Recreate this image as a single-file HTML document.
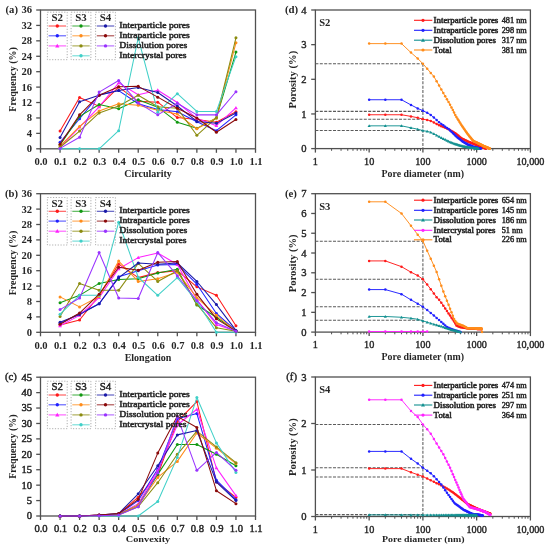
<!DOCTYPE html>
<html><head><meta charset="utf-8"><style>
html,body{margin:0;padding:0;background:#fff;}
svg{display:block;font-family:"Liberation Serif", serif;filter:blur(0.3px);}
</style></head><body>
<svg width="550" height="548" viewBox="0 0 550 548">
<rect width="550" height="548" fill="#fff"/>
<rect x="40.5" y="10.0" width="215.0" height="138.8" fill="none" stroke="#505050" stroke-width="1.3"/>
<line x1="36.2" y1="148.8" x2="40.5" y2="148.8" stroke="#505050" stroke-width="1.3" />
<text x="32" y="152.2" font-size="10.6" font-weight="bold" text-anchor="end" fill="#262626" >0</text>
<line x1="36.2" y1="133.38" x2="40.5" y2="133.38" stroke="#505050" stroke-width="1.3" />
<text x="32" y="136.78" font-size="10.6" font-weight="bold" text-anchor="end" fill="#262626" >4</text>
<line x1="36.2" y1="117.96" x2="40.5" y2="117.96" stroke="#505050" stroke-width="1.3" />
<text x="32" y="121.36" font-size="10.6" font-weight="bold" text-anchor="end" fill="#262626" >8</text>
<line x1="36.2" y1="102.53" x2="40.5" y2="102.53" stroke="#505050" stroke-width="1.3" />
<text x="32" y="105.93" font-size="10.6" font-weight="bold" text-anchor="end" fill="#262626" >12</text>
<line x1="36.2" y1="87.11" x2="40.5" y2="87.11" stroke="#505050" stroke-width="1.3" />
<text x="32" y="90.51" font-size="10.6" font-weight="bold" text-anchor="end" fill="#262626" >16</text>
<line x1="36.2" y1="71.69" x2="40.5" y2="71.69" stroke="#505050" stroke-width="1.3" />
<text x="32" y="75.09" font-size="10.6" font-weight="bold" text-anchor="end" fill="#262626" >20</text>
<line x1="36.2" y1="56.27" x2="40.5" y2="56.27" stroke="#505050" stroke-width="1.3" />
<text x="32" y="59.67" font-size="10.6" font-weight="bold" text-anchor="end" fill="#262626" >24</text>
<line x1="36.2" y1="40.84" x2="40.5" y2="40.84" stroke="#505050" stroke-width="1.3" />
<text x="32" y="44.24" font-size="10.6" font-weight="bold" text-anchor="end" fill="#262626" >28</text>
<line x1="36.2" y1="25.42" x2="40.5" y2="25.42" stroke="#505050" stroke-width="1.3" />
<text x="32" y="28.82" font-size="10.6" font-weight="bold" text-anchor="end" fill="#262626" >32</text>
<line x1="36.2" y1="10" x2="40.5" y2="10" stroke="#505050" stroke-width="1.3" />
<text x="32" y="13.4" font-size="10.6" font-weight="bold" text-anchor="end" fill="#262626" >36</text>
<line x1="40.5" y1="148.8" x2="40.5" y2="152.8" stroke="#505050" stroke-width="1.3" />
<text x="41" y="165.1" font-size="10.6" font-weight="bold" text-anchor="middle" fill="#262626" >0.0</text>
<line x1="60.05" y1="148.8" x2="60.05" y2="152.8" stroke="#505050" stroke-width="1.3" />
<text x="60.55" y="165.1" font-size="10.6" font-weight="bold" text-anchor="middle" fill="#262626" >0.1</text>
<line x1="79.59" y1="148.8" x2="79.59" y2="152.8" stroke="#505050" stroke-width="1.3" />
<text x="80.09" y="165.1" font-size="10.6" font-weight="bold" text-anchor="middle" fill="#262626" >0.2</text>
<line x1="99.14" y1="148.8" x2="99.14" y2="152.8" stroke="#505050" stroke-width="1.3" />
<text x="99.64" y="165.1" font-size="10.6" font-weight="bold" text-anchor="middle" fill="#262626" >0.3</text>
<line x1="118.68" y1="148.8" x2="118.68" y2="152.8" stroke="#505050" stroke-width="1.3" />
<text x="119.18" y="165.1" font-size="10.6" font-weight="bold" text-anchor="middle" fill="#262626" >0.4</text>
<line x1="138.23" y1="148.8" x2="138.23" y2="152.8" stroke="#505050" stroke-width="1.3" />
<text x="138.73" y="165.1" font-size="10.6" font-weight="bold" text-anchor="middle" fill="#262626" >0.5</text>
<line x1="157.77" y1="148.8" x2="157.77" y2="152.8" stroke="#505050" stroke-width="1.3" />
<text x="158.27" y="165.1" font-size="10.6" font-weight="bold" text-anchor="middle" fill="#262626" >0.6</text>
<line x1="177.32" y1="148.8" x2="177.32" y2="152.8" stroke="#505050" stroke-width="1.3" />
<text x="177.82" y="165.1" font-size="10.6" font-weight="bold" text-anchor="middle" fill="#262626" >0.7</text>
<line x1="196.86" y1="148.8" x2="196.86" y2="152.8" stroke="#505050" stroke-width="1.3" />
<text x="197.36" y="165.1" font-size="10.6" font-weight="bold" text-anchor="middle" fill="#262626" >0.8</text>
<line x1="216.41" y1="148.8" x2="216.41" y2="152.8" stroke="#505050" stroke-width="1.3" />
<text x="216.91" y="165.1" font-size="10.6" font-weight="bold" text-anchor="middle" fill="#262626" >0.9</text>
<line x1="235.95" y1="148.8" x2="235.95" y2="152.8" stroke="#505050" stroke-width="1.3" />
<text x="236.45" y="165.1" font-size="10.6" font-weight="bold" text-anchor="middle" fill="#262626" >1.0</text>
<line x1="255.5" y1="148.8" x2="255.5" y2="152.8" stroke="#505050" stroke-width="1.3" />
<text x="256" y="165.1" font-size="10.6" font-weight="bold" text-anchor="middle" fill="#262626" >1.1</text>
<text x="5.6" y="13" font-size="10.6" font-weight="bold" text-anchor="start" fill="#262626" >(a)</text>
<text x="0" y="0" font-size="10.0" font-weight="bold" text-anchor="middle" fill="#262626" transform="translate(16.2,79.4) rotate(-90)">Frequency (%)</text>
<text x="148" y="177.2" font-size="10.0" font-weight="bold" text-anchor="middle" fill="#262626" >Circularity</text>
<polyline points="60.05,131.06 79.59,97.52 99.14,106.39 118.68,87.11 138.23,101.38 157.77,102.15 177.32,117.57 196.86,119.5 216.41,122.2 235.95,111.79" fill="none" stroke="#ff1a1a" stroke-width="1.05" stroke-linejoin="round" />
<circle cx="60.05" cy="131.06" r="1.5" fill="#ff1a1a"/>
<circle cx="79.59" cy="97.52" r="1.5" fill="#ff1a1a"/>
<circle cx="99.14" cy="106.39" r="1.5" fill="#ff1a1a"/>
<circle cx="118.68" cy="87.11" r="1.5" fill="#ff1a1a"/>
<circle cx="138.23" cy="101.38" r="1.5" fill="#ff1a1a"/>
<circle cx="157.77" cy="102.15" r="1.5" fill="#ff1a1a"/>
<circle cx="177.32" cy="117.57" r="1.5" fill="#ff1a1a"/>
<circle cx="196.86" cy="119.5" r="1.5" fill="#ff1a1a"/>
<circle cx="216.41" cy="122.2" r="1.5" fill="#ff1a1a"/>
<circle cx="235.95" cy="111.79" r="1.5" fill="#ff1a1a"/>
<polyline points="60.05,142.25 79.59,118.73 99.14,94.82 118.68,90.58 138.23,103.69 157.77,109.47 177.32,111.79 196.86,121.81 216.41,130.68 235.95,114.87" fill="none" stroke="#2020ff" stroke-width="1.05" stroke-linejoin="round" />
<circle cx="60.05" cy="142.25" r="1.5" fill="#2020ff"/>
<circle cx="79.59" cy="118.73" r="1.5" fill="#2020ff"/>
<circle cx="99.14" cy="94.82" r="1.5" fill="#2020ff"/>
<circle cx="118.68" cy="90.58" r="1.5" fill="#2020ff"/>
<circle cx="138.23" cy="103.69" r="1.5" fill="#2020ff"/>
<circle cx="157.77" cy="109.47" r="1.5" fill="#2020ff"/>
<circle cx="177.32" cy="111.79" r="1.5" fill="#2020ff"/>
<circle cx="196.86" cy="121.81" r="1.5" fill="#2020ff"/>
<circle cx="216.41" cy="130.68" r="1.5" fill="#2020ff"/>
<circle cx="235.95" cy="114.87" r="1.5" fill="#2020ff"/>
<polyline points="60.05,147.64 79.59,127.21 99.14,106.77 118.68,82.87 138.23,94.82 157.77,90.2 177.32,102.53 196.86,118.34 216.41,125.67 235.95,107.93" fill="none" stroke="#ff22ff" stroke-width="1.05" stroke-linejoin="round" />
<path d="M60.05 145.77L61.92 149.05L58.17 149.05Z" fill="#ff22ff"/>
<path d="M79.59 125.33L81.47 128.62L77.72 128.62Z" fill="#ff22ff"/>
<path d="M99.14 104.9L101.01 108.18L97.26 108.18Z" fill="#ff22ff"/>
<path d="M118.68 81L120.56 84.28L116.81 84.28Z" fill="#ff22ff"/>
<path d="M138.23 92.95L140.1 96.23L136.35 96.23Z" fill="#ff22ff"/>
<path d="M157.77 88.32L159.65 91.6L155.9 91.6Z" fill="#ff22ff"/>
<path d="M177.32 100.66L179.19 103.94L175.44 103.94Z" fill="#ff22ff"/>
<path d="M196.86 116.47L198.74 119.75L194.99 119.75Z" fill="#ff22ff"/>
<path d="M216.41 123.79L218.28 127.07L214.53 127.07Z" fill="#ff22ff"/>
<path d="M235.95 106.06L237.83 109.34L234.08 109.34Z" fill="#ff22ff"/>
<polyline points="60.05,144.94 79.59,116.41 99.14,104.46 118.68,108.7 138.23,99.83 157.77,107.16 177.32,122.2 196.86,128.37 216.41,117.96 235.95,52.03" fill="none" stroke="#119911" stroke-width="1.05" stroke-linejoin="round" />
<circle cx="60.05" cy="144.94" r="1.5" fill="#119911"/>
<circle cx="79.59" cy="116.41" r="1.5" fill="#119911"/>
<circle cx="99.14" cy="104.46" r="1.5" fill="#119911"/>
<circle cx="118.68" cy="108.7" r="1.5" fill="#119911"/>
<circle cx="138.23" cy="99.83" r="1.5" fill="#119911"/>
<circle cx="157.77" cy="107.16" r="1.5" fill="#119911"/>
<circle cx="177.32" cy="122.2" r="1.5" fill="#119911"/>
<circle cx="196.86" cy="128.37" r="1.5" fill="#119911"/>
<circle cx="216.41" cy="117.96" r="1.5" fill="#119911"/>
<circle cx="235.95" cy="52.03" r="1.5" fill="#119911"/>
<polyline points="60.05,146.1 79.59,126.44 99.14,111.02 118.68,103.69 138.23,105.23 157.77,110.24 177.32,114.1 196.86,128.75 216.41,117.96 235.95,42.77" fill="none" stroke="#ff8c1a" stroke-width="1.05" stroke-linejoin="round" />
<circle cx="60.05" cy="146.1" r="1.5" fill="#ff8c1a"/>
<circle cx="79.59" cy="126.44" r="1.5" fill="#ff8c1a"/>
<circle cx="99.14" cy="111.02" r="1.5" fill="#ff8c1a"/>
<circle cx="118.68" cy="103.69" r="1.5" fill="#ff8c1a"/>
<circle cx="138.23" cy="105.23" r="1.5" fill="#ff8c1a"/>
<circle cx="157.77" cy="110.24" r="1.5" fill="#ff8c1a"/>
<circle cx="177.32" cy="114.1" r="1.5" fill="#ff8c1a"/>
<circle cx="196.86" cy="128.75" r="1.5" fill="#ff8c1a"/>
<circle cx="216.41" cy="117.96" r="1.5" fill="#ff8c1a"/>
<circle cx="235.95" cy="42.77" r="1.5" fill="#ff8c1a"/>
<polyline points="60.05,147.26 79.59,131.06 99.14,112.94 118.68,106 138.23,95.21 157.77,106.77 177.32,108.32 196.86,135.31 216.41,117.57 235.95,37.76" fill="none" stroke="#8c8c10" stroke-width="1.05" stroke-linejoin="round" />
<circle cx="60.05" cy="147.26" r="1.5" fill="#8c8c10"/>
<circle cx="79.59" cy="131.06" r="1.5" fill="#8c8c10"/>
<circle cx="99.14" cy="112.94" r="1.5" fill="#8c8c10"/>
<circle cx="118.68" cy="106" r="1.5" fill="#8c8c10"/>
<circle cx="138.23" cy="95.21" r="1.5" fill="#8c8c10"/>
<circle cx="157.77" cy="106.77" r="1.5" fill="#8c8c10"/>
<circle cx="177.32" cy="108.32" r="1.5" fill="#8c8c10"/>
<circle cx="196.86" cy="135.31" r="1.5" fill="#8c8c10"/>
<circle cx="216.41" cy="117.57" r="1.5" fill="#8c8c10"/>
<circle cx="235.95" cy="37.76" r="1.5" fill="#8c8c10"/>
<polyline points="60.05,148.8 79.59,148.8 99.14,148.8 118.68,130.68 138.23,37.76 157.77,112.17 177.32,93.67 196.86,111.4 216.41,111.4 235.95,56.65" fill="none" stroke="#40d0c8" stroke-width="1.05" stroke-linejoin="round" />
<circle cx="60.05" cy="148.8" r="1.5" fill="#40d0c8"/>
<circle cx="79.59" cy="148.8" r="1.5" fill="#40d0c8"/>
<circle cx="99.14" cy="148.8" r="1.5" fill="#40d0c8"/>
<circle cx="118.68" cy="130.68" r="1.5" fill="#40d0c8"/>
<circle cx="138.23" cy="37.76" r="1.5" fill="#40d0c8"/>
<circle cx="157.77" cy="112.17" r="1.5" fill="#40d0c8"/>
<circle cx="177.32" cy="93.67" r="1.5" fill="#40d0c8"/>
<circle cx="196.86" cy="111.4" r="1.5" fill="#40d0c8"/>
<circle cx="216.41" cy="111.4" r="1.5" fill="#40d0c8"/>
<circle cx="235.95" cy="56.65" r="1.5" fill="#40d0c8"/>
<polyline points="60.05,137.62 79.59,101.76 99.14,95.21 118.68,90.58 138.23,87.5 157.77,92.51 177.32,106 196.86,121.43 216.41,123.35 235.95,112.94" fill="none" stroke="#1a1aa8" stroke-width="1.05" stroke-linejoin="round" />
<circle cx="60.05" cy="137.62" r="1.5" fill="#1a1aa8"/>
<circle cx="79.59" cy="101.76" r="1.5" fill="#1a1aa8"/>
<circle cx="99.14" cy="95.21" r="1.5" fill="#1a1aa8"/>
<circle cx="118.68" cy="90.58" r="1.5" fill="#1a1aa8"/>
<circle cx="138.23" cy="87.5" r="1.5" fill="#1a1aa8"/>
<circle cx="157.77" cy="92.51" r="1.5" fill="#1a1aa8"/>
<circle cx="177.32" cy="106" r="1.5" fill="#1a1aa8"/>
<circle cx="196.86" cy="121.43" r="1.5" fill="#1a1aa8"/>
<circle cx="216.41" cy="123.35" r="1.5" fill="#1a1aa8"/>
<circle cx="235.95" cy="112.94" r="1.5" fill="#1a1aa8"/>
<polyline points="60.05,144.17 79.59,114.87 99.14,95.21 118.68,86.73 138.23,86.34 157.77,97.14 177.32,108.32 196.86,117.96 216.41,132.22 235.95,119.5" fill="none" stroke="#8b0a0a" stroke-width="1.05" stroke-linejoin="round" />
<circle cx="60.05" cy="144.17" r="1.5" fill="#8b0a0a"/>
<circle cx="79.59" cy="114.87" r="1.5" fill="#8b0a0a"/>
<circle cx="99.14" cy="95.21" r="1.5" fill="#8b0a0a"/>
<circle cx="118.68" cy="86.73" r="1.5" fill="#8b0a0a"/>
<circle cx="138.23" cy="86.34" r="1.5" fill="#8b0a0a"/>
<circle cx="157.77" cy="97.14" r="1.5" fill="#8b0a0a"/>
<circle cx="177.32" cy="108.32" r="1.5" fill="#8b0a0a"/>
<circle cx="196.86" cy="117.96" r="1.5" fill="#8b0a0a"/>
<circle cx="216.41" cy="132.22" r="1.5" fill="#8b0a0a"/>
<circle cx="235.95" cy="119.5" r="1.5" fill="#8b0a0a"/>
<polyline points="60.05,148.41 79.59,137.23 99.14,92.12 118.68,80.56 138.23,102.92 157.77,114.87 177.32,103.3 196.86,114.87 216.41,114.87 235.95,91.74" fill="none" stroke="#9933ff" stroke-width="1.05" stroke-linejoin="round" />
<circle cx="60.05" cy="148.41" r="1.5" fill="#9933ff"/>
<circle cx="79.59" cy="137.23" r="1.5" fill="#9933ff"/>
<circle cx="99.14" cy="92.12" r="1.5" fill="#9933ff"/>
<circle cx="118.68" cy="80.56" r="1.5" fill="#9933ff"/>
<circle cx="138.23" cy="102.92" r="1.5" fill="#9933ff"/>
<circle cx="157.77" cy="114.87" r="1.5" fill="#9933ff"/>
<circle cx="177.32" cy="103.3" r="1.5" fill="#9933ff"/>
<circle cx="196.86" cy="114.87" r="1.5" fill="#9933ff"/>
<circle cx="216.41" cy="114.87" r="1.5" fill="#9933ff"/>
<circle cx="235.95" cy="91.74" r="1.5" fill="#9933ff"/>
<rect x="47.4" y="12.2" width="19.8" height="47.5" fill="none" stroke="#9a9a9a" stroke-width="0.8" stroke-dasharray="1.2,1.6"/>
<text x="57.3" y="21.2" font-size="10.9" font-weight="bold" text-anchor="middle" fill="#262626" >S2</text>
<line x1="48.6" y1="26" x2="66" y2="26" stroke="#ff1a1a" stroke-width="1.1" opacity="0.75"/>
<circle cx="57.3" cy="26" r="1.7" fill="#ff1a1a"/>
<line x1="48.6" y1="35.8" x2="66" y2="35.8" stroke="#2020ff" stroke-width="1.1" opacity="0.75"/>
<circle cx="57.3" cy="35.8" r="1.7" fill="#2020ff"/>
<line x1="48.6" y1="45.9" x2="66" y2="45.9" stroke="#ff22ff" stroke-width="1.1" opacity="0.75"/>
<path d="M57.3 43.77L59.42 47.49L55.17 47.49Z" fill="#ff22ff"/>
<rect x="71.1" y="12.2" width="19.8" height="47.5" fill="none" stroke="#9a9a9a" stroke-width="0.8" stroke-dasharray="1.2,1.6"/>
<text x="81" y="21.2" font-size="10.9" font-weight="bold" text-anchor="middle" fill="#262626" >S3</text>
<line x1="72.3" y1="26" x2="89.7" y2="26" stroke="#119911" stroke-width="1.1" opacity="0.75"/>
<circle cx="81" cy="26" r="1.7" fill="#119911"/>
<line x1="72.3" y1="35.8" x2="89.7" y2="35.8" stroke="#ff8c1a" stroke-width="1.1" opacity="0.75"/>
<circle cx="81" cy="35.8" r="1.7" fill="#ff8c1a"/>
<line x1="72.3" y1="45.9" x2="89.7" y2="45.9" stroke="#8c8c10" stroke-width="1.1" opacity="0.75"/>
<circle cx="81" cy="45.9" r="1.7" fill="#8c8c10"/>
<line x1="72.3" y1="55.8" x2="89.7" y2="55.8" stroke="#40d0c8" stroke-width="1.1" opacity="0.75"/>
<circle cx="81" cy="55.8" r="1.7" fill="#40d0c8"/>
<rect x="95.6" y="12.2" width="19.8" height="47.5" fill="none" stroke="#9a9a9a" stroke-width="0.8" stroke-dasharray="1.2,1.6"/>
<text x="105.5" y="21.2" font-size="10.9" font-weight="bold" text-anchor="middle" fill="#262626" >S4</text>
<line x1="96.8" y1="26" x2="114.2" y2="26" stroke="#1a1aa8" stroke-width="1.1" opacity="0.75"/>
<circle cx="105.5" cy="26" r="1.7" fill="#1a1aa8"/>
<line x1="96.8" y1="35.8" x2="114.2" y2="35.8" stroke="#8b0a0a" stroke-width="1.1" opacity="0.75"/>
<circle cx="105.5" cy="35.8" r="1.7" fill="#8b0a0a"/>
<line x1="96.8" y1="45.9" x2="114.2" y2="45.9" stroke="#9933ff" stroke-width="1.1" opacity="0.75"/>
<circle cx="105.5" cy="45.9" r="1.7" fill="#9933ff"/>
<text x="0" y="0" font-size="9.0" font-weight="normal" text-anchor="start" fill="#262626" stroke="#262626" stroke-width="0.5" transform="translate(119.3,28.1) scale(1.075,1)">Interparticle pores</text>
<text x="0" y="0" font-size="9.0" font-weight="normal" text-anchor="start" fill="#262626" stroke="#262626" stroke-width="0.5" transform="translate(119.3,38.1) scale(1.075,1)">Intraparticle pores</text>
<text x="0" y="0" font-size="9.0" font-weight="normal" text-anchor="start" fill="#262626" stroke="#262626" stroke-width="0.5" transform="translate(119.3,47.6) scale(1.075,1)">Dissolution pores</text>
<text x="0" y="0" font-size="9.0" font-weight="normal" text-anchor="start" fill="#262626" stroke="#262626" stroke-width="0.5" transform="translate(119.3,57.6) scale(1.075,1)">Intercrystal pores</text>
<rect x="40.5" y="193.7" width="215.0" height="138.6" fill="none" stroke="#505050" stroke-width="1.3"/>
<line x1="36.2" y1="332.3" x2="40.5" y2="332.3" stroke="#505050" stroke-width="1.3" />
<text x="32" y="335.7" font-size="10.6" font-weight="bold" text-anchor="end" fill="#262626" >0</text>
<line x1="36.2" y1="316.9" x2="40.5" y2="316.9" stroke="#505050" stroke-width="1.3" />
<text x="32" y="320.3" font-size="10.6" font-weight="bold" text-anchor="end" fill="#262626" >4</text>
<line x1="36.2" y1="301.5" x2="40.5" y2="301.5" stroke="#505050" stroke-width="1.3" />
<text x="32" y="304.9" font-size="10.6" font-weight="bold" text-anchor="end" fill="#262626" >8</text>
<line x1="36.2" y1="286.1" x2="40.5" y2="286.1" stroke="#505050" stroke-width="1.3" />
<text x="32" y="289.5" font-size="10.6" font-weight="bold" text-anchor="end" fill="#262626" >12</text>
<line x1="36.2" y1="270.7" x2="40.5" y2="270.7" stroke="#505050" stroke-width="1.3" />
<text x="32" y="274.1" font-size="10.6" font-weight="bold" text-anchor="end" fill="#262626" >16</text>
<line x1="36.2" y1="255.3" x2="40.5" y2="255.3" stroke="#505050" stroke-width="1.3" />
<text x="32" y="258.7" font-size="10.6" font-weight="bold" text-anchor="end" fill="#262626" >20</text>
<line x1="36.2" y1="239.9" x2="40.5" y2="239.9" stroke="#505050" stroke-width="1.3" />
<text x="32" y="243.3" font-size="10.6" font-weight="bold" text-anchor="end" fill="#262626" >24</text>
<line x1="36.2" y1="224.5" x2="40.5" y2="224.5" stroke="#505050" stroke-width="1.3" />
<text x="32" y="227.9" font-size="10.6" font-weight="bold" text-anchor="end" fill="#262626" >28</text>
<line x1="36.2" y1="209.1" x2="40.5" y2="209.1" stroke="#505050" stroke-width="1.3" />
<text x="32" y="212.5" font-size="10.6" font-weight="bold" text-anchor="end" fill="#262626" >32</text>
<line x1="36.2" y1="193.7" x2="40.5" y2="193.7" stroke="#505050" stroke-width="1.3" />
<text x="32" y="197.1" font-size="10.6" font-weight="bold" text-anchor="end" fill="#262626" >36</text>
<line x1="40.5" y1="332.3" x2="40.5" y2="336.3" stroke="#505050" stroke-width="1.3" />
<text x="41" y="348.6" font-size="10.6" font-weight="bold" text-anchor="middle" fill="#262626" >0.0</text>
<line x1="60.05" y1="332.3" x2="60.05" y2="336.3" stroke="#505050" stroke-width="1.3" />
<text x="60.55" y="348.6" font-size="10.6" font-weight="bold" text-anchor="middle" fill="#262626" >0.1</text>
<line x1="79.59" y1="332.3" x2="79.59" y2="336.3" stroke="#505050" stroke-width="1.3" />
<text x="80.09" y="348.6" font-size="10.6" font-weight="bold" text-anchor="middle" fill="#262626" >0.2</text>
<line x1="99.14" y1="332.3" x2="99.14" y2="336.3" stroke="#505050" stroke-width="1.3" />
<text x="99.64" y="348.6" font-size="10.6" font-weight="bold" text-anchor="middle" fill="#262626" >0.3</text>
<line x1="118.68" y1="332.3" x2="118.68" y2="336.3" stroke="#505050" stroke-width="1.3" />
<text x="119.18" y="348.6" font-size="10.6" font-weight="bold" text-anchor="middle" fill="#262626" >0.4</text>
<line x1="138.23" y1="332.3" x2="138.23" y2="336.3" stroke="#505050" stroke-width="1.3" />
<text x="138.73" y="348.6" font-size="10.6" font-weight="bold" text-anchor="middle" fill="#262626" >0.5</text>
<line x1="157.77" y1="332.3" x2="157.77" y2="336.3" stroke="#505050" stroke-width="1.3" />
<text x="158.27" y="348.6" font-size="10.6" font-weight="bold" text-anchor="middle" fill="#262626" >0.6</text>
<line x1="177.32" y1="332.3" x2="177.32" y2="336.3" stroke="#505050" stroke-width="1.3" />
<text x="177.82" y="348.6" font-size="10.6" font-weight="bold" text-anchor="middle" fill="#262626" >0.7</text>
<line x1="196.86" y1="332.3" x2="196.86" y2="336.3" stroke="#505050" stroke-width="1.3" />
<text x="197.36" y="348.6" font-size="10.6" font-weight="bold" text-anchor="middle" fill="#262626" >0.8</text>
<line x1="216.41" y1="332.3" x2="216.41" y2="336.3" stroke="#505050" stroke-width="1.3" />
<text x="216.91" y="348.6" font-size="10.6" font-weight="bold" text-anchor="middle" fill="#262626" >0.9</text>
<line x1="235.95" y1="332.3" x2="235.95" y2="336.3" stroke="#505050" stroke-width="1.3" />
<text x="236.45" y="348.6" font-size="10.6" font-weight="bold" text-anchor="middle" fill="#262626" >1.0</text>
<line x1="255.5" y1="332.3" x2="255.5" y2="336.3" stroke="#505050" stroke-width="1.3" />
<text x="256" y="348.6" font-size="10.6" font-weight="bold" text-anchor="middle" fill="#262626" >1.1</text>
<text x="5" y="196.7" font-size="10.6" font-weight="bold" text-anchor="start" fill="#262626" >(b)</text>
<text x="0" y="0" font-size="10.0" font-weight="bold" text-anchor="middle" fill="#262626" transform="translate(16.2,263) rotate(-90)">Frequency (%)</text>
<text x="148" y="361.2" font-size="10.0" font-weight="bold" text-anchor="middle" fill="#262626" >Elongation</text>
<polyline points="60.05,324.99 79.59,319.98 99.14,295.34 118.68,264.15 138.23,277.63 157.77,272.62 177.32,270.7 196.86,286.87 216.41,295.34 235.95,325.75" fill="none" stroke="#ff1a1a" stroke-width="1.05" stroke-linejoin="round" />
<circle cx="60.05" cy="324.99" r="1.5" fill="#ff1a1a"/>
<circle cx="79.59" cy="319.98" r="1.5" fill="#ff1a1a"/>
<circle cx="99.14" cy="295.34" r="1.5" fill="#ff1a1a"/>
<circle cx="118.68" cy="264.15" r="1.5" fill="#ff1a1a"/>
<circle cx="138.23" cy="277.63" r="1.5" fill="#ff1a1a"/>
<circle cx="157.77" cy="272.62" r="1.5" fill="#ff1a1a"/>
<circle cx="177.32" cy="270.7" r="1.5" fill="#ff1a1a"/>
<circle cx="196.86" cy="286.87" r="1.5" fill="#ff1a1a"/>
<circle cx="216.41" cy="295.34" r="1.5" fill="#ff1a1a"/>
<circle cx="235.95" cy="325.75" r="1.5" fill="#ff1a1a"/>
<polyline points="60.05,323.44 79.59,313.82 99.14,303.81 118.68,276.86 138.23,270.7 157.77,264.93 177.32,264.54 196.86,284.18 216.41,313.44 235.95,330.76" fill="none" stroke="#2020ff" stroke-width="1.05" stroke-linejoin="round" />
<circle cx="60.05" cy="323.44" r="1.5" fill="#2020ff"/>
<circle cx="79.59" cy="313.82" r="1.5" fill="#2020ff"/>
<circle cx="99.14" cy="303.81" r="1.5" fill="#2020ff"/>
<circle cx="118.68" cy="276.86" r="1.5" fill="#2020ff"/>
<circle cx="138.23" cy="270.7" r="1.5" fill="#2020ff"/>
<circle cx="157.77" cy="264.93" r="1.5" fill="#2020ff"/>
<circle cx="177.32" cy="264.54" r="1.5" fill="#2020ff"/>
<circle cx="196.86" cy="284.18" r="1.5" fill="#2020ff"/>
<circle cx="216.41" cy="313.44" r="1.5" fill="#2020ff"/>
<circle cx="235.95" cy="330.76" r="1.5" fill="#2020ff"/>
<polyline points="60.05,325.75 79.59,315.36 99.14,297.65 118.68,268.77 138.23,257.61 157.77,252.99 177.32,264.54 196.86,299.57 216.41,324.6 235.95,331.15" fill="none" stroke="#ff22ff" stroke-width="1.05" stroke-linejoin="round" />
<path d="M60.05 323.88L61.92 327.16L58.17 327.16Z" fill="#ff22ff"/>
<path d="M79.59 313.49L81.47 316.77L77.72 316.77Z" fill="#ff22ff"/>
<path d="M99.14 295.77L101.01 299.06L97.26 299.06Z" fill="#ff22ff"/>
<path d="M118.68 266.9L120.56 270.18L116.81 270.18Z" fill="#ff22ff"/>
<path d="M138.23 255.74L140.1 259.02L136.35 259.02Z" fill="#ff22ff"/>
<path d="M157.77 251.12L159.65 254.4L155.9 254.4Z" fill="#ff22ff"/>
<path d="M177.32 262.66L179.19 265.95L175.44 265.95Z" fill="#ff22ff"/>
<path d="M196.86 297.7L198.74 300.98L194.99 300.98Z" fill="#ff22ff"/>
<path d="M216.41 322.73L218.28 326.01L214.53 326.01Z" fill="#ff22ff"/>
<path d="M235.95 329.27L237.83 332.55L234.08 332.55Z" fill="#ff22ff"/>
<polyline points="60.05,302.66 79.59,295.34 99.14,283.4 118.68,279.56 138.23,278.78 157.77,273.01 177.32,269.16 196.86,304.97 216.41,317.29 235.95,331.15" fill="none" stroke="#119911" stroke-width="1.05" stroke-linejoin="round" />
<circle cx="60.05" cy="302.66" r="1.5" fill="#119911"/>
<circle cx="79.59" cy="295.34" r="1.5" fill="#119911"/>
<circle cx="99.14" cy="283.4" r="1.5" fill="#119911"/>
<circle cx="118.68" cy="279.56" r="1.5" fill="#119911"/>
<circle cx="138.23" cy="278.78" r="1.5" fill="#119911"/>
<circle cx="157.77" cy="273.01" r="1.5" fill="#119911"/>
<circle cx="177.32" cy="269.16" r="1.5" fill="#119911"/>
<circle cx="196.86" cy="304.97" r="1.5" fill="#119911"/>
<circle cx="216.41" cy="317.29" r="1.5" fill="#119911"/>
<circle cx="235.95" cy="331.15" r="1.5" fill="#119911"/>
<polyline points="60.05,296.88 79.59,306.89 99.14,296.5 118.68,261.07 138.23,281.48 157.77,278.78 177.32,272.24 196.86,297.65 216.41,315.36 235.95,331.15" fill="none" stroke="#ff8c1a" stroke-width="1.05" stroke-linejoin="round" />
<circle cx="60.05" cy="296.88" r="1.5" fill="#ff8c1a"/>
<circle cx="79.59" cy="306.89" r="1.5" fill="#ff8c1a"/>
<circle cx="99.14" cy="296.5" r="1.5" fill="#ff8c1a"/>
<circle cx="118.68" cy="261.07" r="1.5" fill="#ff8c1a"/>
<circle cx="138.23" cy="281.48" r="1.5" fill="#ff8c1a"/>
<circle cx="157.77" cy="278.78" r="1.5" fill="#ff8c1a"/>
<circle cx="177.32" cy="272.24" r="1.5" fill="#ff8c1a"/>
<circle cx="196.86" cy="297.65" r="1.5" fill="#ff8c1a"/>
<circle cx="216.41" cy="315.36" r="1.5" fill="#ff8c1a"/>
<circle cx="235.95" cy="331.15" r="1.5" fill="#ff8c1a"/>
<polyline points="60.05,316.51 79.59,283.4 99.14,290.34 118.68,290.34 138.23,263.38 157.77,281.48 177.32,270.7 196.86,304.19 216.41,327.68 235.95,331.15" fill="none" stroke="#8c8c10" stroke-width="1.05" stroke-linejoin="round" />
<circle cx="60.05" cy="316.51" r="1.5" fill="#8c8c10"/>
<circle cx="79.59" cy="283.4" r="1.5" fill="#8c8c10"/>
<circle cx="99.14" cy="290.34" r="1.5" fill="#8c8c10"/>
<circle cx="118.68" cy="290.34" r="1.5" fill="#8c8c10"/>
<circle cx="138.23" cy="263.38" r="1.5" fill="#8c8c10"/>
<circle cx="157.77" cy="281.48" r="1.5" fill="#8c8c10"/>
<circle cx="177.32" cy="270.7" r="1.5" fill="#8c8c10"/>
<circle cx="196.86" cy="304.19" r="1.5" fill="#8c8c10"/>
<circle cx="216.41" cy="327.68" r="1.5" fill="#8c8c10"/>
<circle cx="235.95" cy="331.15" r="1.5" fill="#8c8c10"/>
<polyline points="60.05,314.2 79.59,295.34 99.14,295.34 118.68,222.19 138.23,277.25 157.77,295.34 177.32,277.63 196.86,301.5 216.41,332.3 235.95,332.3" fill="none" stroke="#40d0c8" stroke-width="1.05" stroke-linejoin="round" />
<circle cx="60.05" cy="314.2" r="1.5" fill="#40d0c8"/>
<circle cx="79.59" cy="295.34" r="1.5" fill="#40d0c8"/>
<circle cx="99.14" cy="295.34" r="1.5" fill="#40d0c8"/>
<circle cx="118.68" cy="222.19" r="1.5" fill="#40d0c8"/>
<circle cx="138.23" cy="277.25" r="1.5" fill="#40d0c8"/>
<circle cx="157.77" cy="295.34" r="1.5" fill="#40d0c8"/>
<circle cx="177.32" cy="277.63" r="1.5" fill="#40d0c8"/>
<circle cx="196.86" cy="301.5" r="1.5" fill="#40d0c8"/>
<circle cx="216.41" cy="332.3" r="1.5" fill="#40d0c8"/>
<circle cx="235.95" cy="332.3" r="1.5" fill="#40d0c8"/>
<polyline points="60.05,322.29 79.59,314.59 99.14,303.81 118.68,277.63 138.23,263 157.77,264.15 177.32,263 196.86,281.48 216.41,304.58 235.95,330.38" fill="none" stroke="#1a1aa8" stroke-width="1.05" stroke-linejoin="round" />
<circle cx="60.05" cy="322.29" r="1.5" fill="#1a1aa8"/>
<circle cx="79.59" cy="314.59" r="1.5" fill="#1a1aa8"/>
<circle cx="99.14" cy="303.81" r="1.5" fill="#1a1aa8"/>
<circle cx="118.68" cy="277.63" r="1.5" fill="#1a1aa8"/>
<circle cx="138.23" cy="263" r="1.5" fill="#1a1aa8"/>
<circle cx="157.77" cy="264.15" r="1.5" fill="#1a1aa8"/>
<circle cx="177.32" cy="263" r="1.5" fill="#1a1aa8"/>
<circle cx="196.86" cy="281.48" r="1.5" fill="#1a1aa8"/>
<circle cx="216.41" cy="304.58" r="1.5" fill="#1a1aa8"/>
<circle cx="235.95" cy="330.38" r="1.5" fill="#1a1aa8"/>
<polyline points="60.05,324.22 79.59,313.05 99.14,294.19 118.68,267.24 138.23,270.31 157.77,262.23 177.32,261.46 196.86,294.19 216.41,318.82 235.95,331.15" fill="none" stroke="#8b0a0a" stroke-width="1.05" stroke-linejoin="round" />
<circle cx="60.05" cy="324.22" r="1.5" fill="#8b0a0a"/>
<circle cx="79.59" cy="313.05" r="1.5" fill="#8b0a0a"/>
<circle cx="99.14" cy="294.19" r="1.5" fill="#8b0a0a"/>
<circle cx="118.68" cy="267.24" r="1.5" fill="#8b0a0a"/>
<circle cx="138.23" cy="270.31" r="1.5" fill="#8b0a0a"/>
<circle cx="157.77" cy="262.23" r="1.5" fill="#8b0a0a"/>
<circle cx="177.32" cy="261.46" r="1.5" fill="#8b0a0a"/>
<circle cx="196.86" cy="294.19" r="1.5" fill="#8b0a0a"/>
<circle cx="216.41" cy="318.82" r="1.5" fill="#8b0a0a"/>
<circle cx="235.95" cy="331.15" r="1.5" fill="#8b0a0a"/>
<polyline points="60.05,309.58 79.59,298.04 99.14,252.61 118.68,298.04 138.23,298.42 157.77,252.61 177.32,275.7 196.86,300.73 216.41,322.68 235.95,331.15" fill="none" stroke="#9933ff" stroke-width="1.05" stroke-linejoin="round" />
<circle cx="60.05" cy="309.58" r="1.5" fill="#9933ff"/>
<circle cx="79.59" cy="298.04" r="1.5" fill="#9933ff"/>
<circle cx="99.14" cy="252.61" r="1.5" fill="#9933ff"/>
<circle cx="118.68" cy="298.04" r="1.5" fill="#9933ff"/>
<circle cx="138.23" cy="298.42" r="1.5" fill="#9933ff"/>
<circle cx="157.77" cy="252.61" r="1.5" fill="#9933ff"/>
<circle cx="177.32" cy="275.7" r="1.5" fill="#9933ff"/>
<circle cx="196.86" cy="300.73" r="1.5" fill="#9933ff"/>
<circle cx="216.41" cy="322.68" r="1.5" fill="#9933ff"/>
<circle cx="235.95" cy="331.15" r="1.5" fill="#9933ff"/>
<rect x="47.4" y="197.5" width="19.8" height="47.5" fill="none" stroke="#9a9a9a" stroke-width="0.8" stroke-dasharray="1.2,1.6"/>
<text x="57.3" y="206.5" font-size="10.9" font-weight="bold" text-anchor="middle" fill="#262626" >S2</text>
<line x1="48.6" y1="211.3" x2="66" y2="211.3" stroke="#ff1a1a" stroke-width="1.1" opacity="0.75"/>
<circle cx="57.3" cy="211.3" r="1.7" fill="#ff1a1a"/>
<line x1="48.6" y1="221.1" x2="66" y2="221.1" stroke="#2020ff" stroke-width="1.1" opacity="0.75"/>
<circle cx="57.3" cy="221.1" r="1.7" fill="#2020ff"/>
<line x1="48.6" y1="231.2" x2="66" y2="231.2" stroke="#ff22ff" stroke-width="1.1" opacity="0.75"/>
<path d="M57.3 229.07L59.42 232.79L55.17 232.79Z" fill="#ff22ff"/>
<rect x="71.1" y="197.5" width="19.8" height="47.5" fill="none" stroke="#9a9a9a" stroke-width="0.8" stroke-dasharray="1.2,1.6"/>
<text x="81" y="206.5" font-size="10.9" font-weight="bold" text-anchor="middle" fill="#262626" >S3</text>
<line x1="72.3" y1="211.3" x2="89.7" y2="211.3" stroke="#119911" stroke-width="1.1" opacity="0.75"/>
<circle cx="81" cy="211.3" r="1.7" fill="#119911"/>
<line x1="72.3" y1="221.1" x2="89.7" y2="221.1" stroke="#ff8c1a" stroke-width="1.1" opacity="0.75"/>
<circle cx="81" cy="221.1" r="1.7" fill="#ff8c1a"/>
<line x1="72.3" y1="231.2" x2="89.7" y2="231.2" stroke="#8c8c10" stroke-width="1.1" opacity="0.75"/>
<circle cx="81" cy="231.2" r="1.7" fill="#8c8c10"/>
<line x1="72.3" y1="241.1" x2="89.7" y2="241.1" stroke="#40d0c8" stroke-width="1.1" opacity="0.75"/>
<circle cx="81" cy="241.1" r="1.7" fill="#40d0c8"/>
<rect x="95.6" y="197.5" width="19.8" height="47.5" fill="none" stroke="#9a9a9a" stroke-width="0.8" stroke-dasharray="1.2,1.6"/>
<text x="105.5" y="206.5" font-size="10.9" font-weight="bold" text-anchor="middle" fill="#262626" >S4</text>
<line x1="96.8" y1="211.3" x2="114.2" y2="211.3" stroke="#1a1aa8" stroke-width="1.1" opacity="0.75"/>
<circle cx="105.5" cy="211.3" r="1.7" fill="#1a1aa8"/>
<line x1="96.8" y1="221.1" x2="114.2" y2="221.1" stroke="#8b0a0a" stroke-width="1.1" opacity="0.75"/>
<circle cx="105.5" cy="221.1" r="1.7" fill="#8b0a0a"/>
<line x1="96.8" y1="231.2" x2="114.2" y2="231.2" stroke="#9933ff" stroke-width="1.1" opacity="0.75"/>
<circle cx="105.5" cy="231.2" r="1.7" fill="#9933ff"/>
<text x="0" y="0" font-size="9.0" font-weight="normal" text-anchor="start" fill="#262626" stroke="#262626" stroke-width="0.5" transform="translate(119.3,213.4) scale(1.075,1)">Interparticle pores</text>
<text x="0" y="0" font-size="9.0" font-weight="normal" text-anchor="start" fill="#262626" stroke="#262626" stroke-width="0.5" transform="translate(119.3,223.4) scale(1.075,1)">Intraparticle pores</text>
<text x="0" y="0" font-size="9.0" font-weight="normal" text-anchor="start" fill="#262626" stroke="#262626" stroke-width="0.5" transform="translate(119.3,232.9) scale(1.075,1)">Dissolution pores</text>
<text x="0" y="0" font-size="9.0" font-weight="normal" text-anchor="start" fill="#262626" stroke="#262626" stroke-width="0.5" transform="translate(119.3,242.9) scale(1.075,1)">Intercrystal pores</text>
<rect x="40.5" y="377.2" width="215.0" height="138.8" fill="none" stroke="#505050" stroke-width="1.3"/>
<line x1="36.2" y1="516" x2="40.5" y2="516" stroke="#505050" stroke-width="1.3" />
<text x="32" y="519.4" font-size="10.6" font-weight="normal" text-anchor="end" fill="#262626" stroke="#262626" stroke-width="0.45">0</text>
<line x1="36.2" y1="500.58" x2="40.5" y2="500.58" stroke="#505050" stroke-width="1.3" />
<text x="32" y="503.98" font-size="10.6" font-weight="normal" text-anchor="end" fill="#262626" stroke="#262626" stroke-width="0.45">5</text>
<line x1="36.2" y1="485.16" x2="40.5" y2="485.16" stroke="#505050" stroke-width="1.3" />
<text x="32" y="488.56" font-size="10.6" font-weight="normal" text-anchor="end" fill="#262626" stroke="#262626" stroke-width="0.45">10</text>
<line x1="36.2" y1="469.73" x2="40.5" y2="469.73" stroke="#505050" stroke-width="1.3" />
<text x="32" y="473.13" font-size="10.6" font-weight="normal" text-anchor="end" fill="#262626" stroke="#262626" stroke-width="0.45">15</text>
<line x1="36.2" y1="454.31" x2="40.5" y2="454.31" stroke="#505050" stroke-width="1.3" />
<text x="32" y="457.71" font-size="10.6" font-weight="normal" text-anchor="end" fill="#262626" stroke="#262626" stroke-width="0.45">20</text>
<line x1="36.2" y1="438.89" x2="40.5" y2="438.89" stroke="#505050" stroke-width="1.3" />
<text x="32" y="442.29" font-size="10.6" font-weight="normal" text-anchor="end" fill="#262626" stroke="#262626" stroke-width="0.45">25</text>
<line x1="36.2" y1="423.47" x2="40.5" y2="423.47" stroke="#505050" stroke-width="1.3" />
<text x="32" y="426.87" font-size="10.6" font-weight="normal" text-anchor="end" fill="#262626" stroke="#262626" stroke-width="0.45">30</text>
<line x1="36.2" y1="408.04" x2="40.5" y2="408.04" stroke="#505050" stroke-width="1.3" />
<text x="32" y="411.44" font-size="10.6" font-weight="normal" text-anchor="end" fill="#262626" stroke="#262626" stroke-width="0.45">35</text>
<line x1="36.2" y1="392.62" x2="40.5" y2="392.62" stroke="#505050" stroke-width="1.3" />
<text x="32" y="396.02" font-size="10.6" font-weight="normal" text-anchor="end" fill="#262626" stroke="#262626" stroke-width="0.45">40</text>
<line x1="36.2" y1="377.2" x2="40.5" y2="377.2" stroke="#505050" stroke-width="1.3" />
<text x="32" y="380.6" font-size="10.6" font-weight="normal" text-anchor="end" fill="#262626" stroke="#262626" stroke-width="0.45">45</text>
<line x1="40.5" y1="516" x2="40.5" y2="520" stroke="#505050" stroke-width="1.3" />
<text x="41" y="532.3" font-size="10.6" font-weight="normal" text-anchor="middle" fill="#262626" stroke="#262626" stroke-width="0.45">0.0</text>
<line x1="60.05" y1="516" x2="60.05" y2="520" stroke="#505050" stroke-width="1.3" />
<text x="60.55" y="532.3" font-size="10.6" font-weight="normal" text-anchor="middle" fill="#262626" stroke="#262626" stroke-width="0.45">0.1</text>
<line x1="79.59" y1="516" x2="79.59" y2="520" stroke="#505050" stroke-width="1.3" />
<text x="80.09" y="532.3" font-size="10.6" font-weight="normal" text-anchor="middle" fill="#262626" stroke="#262626" stroke-width="0.45">0.2</text>
<line x1="99.14" y1="516" x2="99.14" y2="520" stroke="#505050" stroke-width="1.3" />
<text x="99.64" y="532.3" font-size="10.6" font-weight="normal" text-anchor="middle" fill="#262626" stroke="#262626" stroke-width="0.45">0.3</text>
<line x1="118.68" y1="516" x2="118.68" y2="520" stroke="#505050" stroke-width="1.3" />
<text x="119.18" y="532.3" font-size="10.6" font-weight="normal" text-anchor="middle" fill="#262626" stroke="#262626" stroke-width="0.45">0.4</text>
<line x1="138.23" y1="516" x2="138.23" y2="520" stroke="#505050" stroke-width="1.3" />
<text x="138.73" y="532.3" font-size="10.6" font-weight="normal" text-anchor="middle" fill="#262626" stroke="#262626" stroke-width="0.45">0.5</text>
<line x1="157.77" y1="516" x2="157.77" y2="520" stroke="#505050" stroke-width="1.3" />
<text x="158.27" y="532.3" font-size="10.6" font-weight="normal" text-anchor="middle" fill="#262626" stroke="#262626" stroke-width="0.45">0.6</text>
<line x1="177.32" y1="516" x2="177.32" y2="520" stroke="#505050" stroke-width="1.3" />
<text x="177.82" y="532.3" font-size="10.6" font-weight="normal" text-anchor="middle" fill="#262626" stroke="#262626" stroke-width="0.45">0.7</text>
<line x1="196.86" y1="516" x2="196.86" y2="520" stroke="#505050" stroke-width="1.3" />
<text x="197.36" y="532.3" font-size="10.6" font-weight="normal" text-anchor="middle" fill="#262626" stroke="#262626" stroke-width="0.45">0.8</text>
<line x1="216.41" y1="516" x2="216.41" y2="520" stroke="#505050" stroke-width="1.3" />
<text x="216.91" y="532.3" font-size="10.6" font-weight="normal" text-anchor="middle" fill="#262626" stroke="#262626" stroke-width="0.45">0.9</text>
<line x1="235.95" y1="516" x2="235.95" y2="520" stroke="#505050" stroke-width="1.3" />
<text x="236.45" y="532.3" font-size="10.6" font-weight="normal" text-anchor="middle" fill="#262626" stroke="#262626" stroke-width="0.45">1.0</text>
<line x1="255.5" y1="516" x2="255.5" y2="520" stroke="#505050" stroke-width="1.3" />
<text x="256" y="532.3" font-size="10.6" font-weight="normal" text-anchor="middle" fill="#262626" stroke="#262626" stroke-width="0.45">1.1</text>
<text x="5" y="380.2" font-size="10.6" font-weight="normal" text-anchor="start" fill="#262626" stroke="#262626" stroke-width="0.45">(c)</text>
<text x="0" y="0" font-size="10.0" font-weight="bold" text-anchor="middle" fill="#262626" transform="translate(16.2,446.6) rotate(-90)">Frequency (%)</text>
<text x="0" y="0" font-size="8.2" font-weight="bold" text-anchor="middle" fill="#262626" transform="translate(148,541.9) scale(1.25,1)">Convexity</text>
<polyline points="60.05,516 79.59,516 99.14,515.07 118.68,513.84 138.23,497.18 157.77,474.98 177.32,421.62 196.86,401.57 216.41,482.07 235.95,497.49" fill="none" stroke="#ff1a1a" stroke-width="1.05" stroke-linejoin="round" />
<circle cx="60.05" cy="516" r="1.5" fill="#ff1a1a"/>
<circle cx="79.59" cy="516" r="1.5" fill="#ff1a1a"/>
<circle cx="99.14" cy="515.07" r="1.5" fill="#ff1a1a"/>
<circle cx="118.68" cy="513.84" r="1.5" fill="#ff1a1a"/>
<circle cx="138.23" cy="497.18" r="1.5" fill="#ff1a1a"/>
<circle cx="157.77" cy="474.98" r="1.5" fill="#ff1a1a"/>
<circle cx="177.32" cy="421.62" r="1.5" fill="#ff1a1a"/>
<circle cx="196.86" cy="401.57" r="1.5" fill="#ff1a1a"/>
<circle cx="216.41" cy="482.07" r="1.5" fill="#ff1a1a"/>
<circle cx="235.95" cy="497.49" r="1.5" fill="#ff1a1a"/>
<polyline points="60.05,516 79.59,516 99.14,515.38 118.68,514.15 138.23,500.58 157.77,469.12 177.32,418.84 196.86,413.6 216.41,480.22 235.95,499.65" fill="none" stroke="#2020ff" stroke-width="1.05" stroke-linejoin="round" />
<circle cx="60.05" cy="516" r="1.5" fill="#2020ff"/>
<circle cx="79.59" cy="516" r="1.5" fill="#2020ff"/>
<circle cx="99.14" cy="515.38" r="1.5" fill="#2020ff"/>
<circle cx="118.68" cy="514.15" r="1.5" fill="#2020ff"/>
<circle cx="138.23" cy="500.58" r="1.5" fill="#2020ff"/>
<circle cx="157.77" cy="469.12" r="1.5" fill="#2020ff"/>
<circle cx="177.32" cy="418.84" r="1.5" fill="#2020ff"/>
<circle cx="196.86" cy="413.6" r="1.5" fill="#2020ff"/>
<circle cx="216.41" cy="480.22" r="1.5" fill="#2020ff"/>
<circle cx="235.95" cy="499.65" r="1.5" fill="#2020ff"/>
<polyline points="60.05,516 79.59,516 99.14,515.38 118.68,514.46 138.23,503.66 157.77,470.35 177.32,425.01 196.86,409.28 216.41,467.88 235.95,495.64" fill="none" stroke="#ff22ff" stroke-width="1.05" stroke-linejoin="round" />
<path d="M60.05 514.12L61.92 517.41L58.17 517.41Z" fill="#ff22ff"/>
<path d="M79.59 514.12L81.47 517.41L77.72 517.41Z" fill="#ff22ff"/>
<path d="M99.14 513.51L101.01 516.79L97.26 516.79Z" fill="#ff22ff"/>
<path d="M118.68 512.58L120.56 515.86L116.81 515.86Z" fill="#ff22ff"/>
<path d="M138.23 501.79L140.1 505.07L136.35 505.07Z" fill="#ff22ff"/>
<path d="M157.77 468.48L159.65 471.76L155.9 471.76Z" fill="#ff22ff"/>
<path d="M177.32 423.13L179.19 426.42L175.44 426.42Z" fill="#ff22ff"/>
<path d="M196.86 407.4L198.74 410.68L194.99 410.68Z" fill="#ff22ff"/>
<path d="M216.41 466.01L218.28 469.29L214.53 469.29Z" fill="#ff22ff"/>
<path d="M235.95 493.77L237.83 497.05L234.08 497.05Z" fill="#ff22ff"/>
<polyline points="60.05,516 79.59,516 99.14,515.38 118.68,514.46 138.23,505.2 157.77,474.36 177.32,444.44 196.86,444.44 216.41,454.31 235.95,465.72" fill="none" stroke="#119911" stroke-width="1.05" stroke-linejoin="round" />
<circle cx="60.05" cy="516" r="1.5" fill="#119911"/>
<circle cx="79.59" cy="516" r="1.5" fill="#119911"/>
<circle cx="99.14" cy="515.38" r="1.5" fill="#119911"/>
<circle cx="118.68" cy="514.46" r="1.5" fill="#119911"/>
<circle cx="138.23" cy="505.2" r="1.5" fill="#119911"/>
<circle cx="157.77" cy="474.36" r="1.5" fill="#119911"/>
<circle cx="177.32" cy="444.44" r="1.5" fill="#119911"/>
<circle cx="196.86" cy="444.44" r="1.5" fill="#119911"/>
<circle cx="216.41" cy="454.31" r="1.5" fill="#119911"/>
<circle cx="235.95" cy="465.72" r="1.5" fill="#119911"/>
<polyline points="60.05,516 79.59,516 99.14,515.69 118.68,514.77 138.23,505.2 157.77,477.44 177.32,461.41 196.86,433.03 216.41,448.14 235.95,463.56" fill="none" stroke="#ff8c1a" stroke-width="1.05" stroke-linejoin="round" />
<circle cx="60.05" cy="516" r="1.5" fill="#ff8c1a"/>
<circle cx="79.59" cy="516" r="1.5" fill="#ff8c1a"/>
<circle cx="99.14" cy="515.69" r="1.5" fill="#ff8c1a"/>
<circle cx="118.68" cy="514.77" r="1.5" fill="#ff8c1a"/>
<circle cx="138.23" cy="505.2" r="1.5" fill="#ff8c1a"/>
<circle cx="157.77" cy="477.44" r="1.5" fill="#ff8c1a"/>
<circle cx="177.32" cy="461.41" r="1.5" fill="#ff8c1a"/>
<circle cx="196.86" cy="433.03" r="1.5" fill="#ff8c1a"/>
<circle cx="216.41" cy="448.14" r="1.5" fill="#ff8c1a"/>
<circle cx="235.95" cy="463.56" r="1.5" fill="#ff8c1a"/>
<polyline points="60.05,516 79.59,516 99.14,515.69 118.68,514.77 138.23,506.75 157.77,482.69 177.32,454.31 196.86,431.18 216.41,446.91 235.95,462.64" fill="none" stroke="#8c8c10" stroke-width="1.05" stroke-linejoin="round" />
<circle cx="60.05" cy="516" r="1.5" fill="#8c8c10"/>
<circle cx="79.59" cy="516" r="1.5" fill="#8c8c10"/>
<circle cx="99.14" cy="515.69" r="1.5" fill="#8c8c10"/>
<circle cx="118.68" cy="514.77" r="1.5" fill="#8c8c10"/>
<circle cx="138.23" cy="506.75" r="1.5" fill="#8c8c10"/>
<circle cx="157.77" cy="482.69" r="1.5" fill="#8c8c10"/>
<circle cx="177.32" cy="454.31" r="1.5" fill="#8c8c10"/>
<circle cx="196.86" cy="431.18" r="1.5" fill="#8c8c10"/>
<circle cx="216.41" cy="446.91" r="1.5" fill="#8c8c10"/>
<circle cx="235.95" cy="462.64" r="1.5" fill="#8c8c10"/>
<polyline points="60.05,516 79.59,516 99.14,516 118.68,516 138.23,516 157.77,501.5 177.32,457.4 196.86,397.56 216.41,442.9 235.95,472.51" fill="none" stroke="#40d0c8" stroke-width="1.05" stroke-linejoin="round" />
<circle cx="60.05" cy="516" r="1.5" fill="#40d0c8"/>
<circle cx="79.59" cy="516" r="1.5" fill="#40d0c8"/>
<circle cx="99.14" cy="516" r="1.5" fill="#40d0c8"/>
<circle cx="118.68" cy="516" r="1.5" fill="#40d0c8"/>
<circle cx="138.23" cy="516" r="1.5" fill="#40d0c8"/>
<circle cx="157.77" cy="501.5" r="1.5" fill="#40d0c8"/>
<circle cx="177.32" cy="457.4" r="1.5" fill="#40d0c8"/>
<circle cx="196.86" cy="397.56" r="1.5" fill="#40d0c8"/>
<circle cx="216.41" cy="442.9" r="1.5" fill="#40d0c8"/>
<circle cx="235.95" cy="472.51" r="1.5" fill="#40d0c8"/>
<polyline points="60.05,516 79.59,516 99.14,515.07 118.68,513.53 138.23,493.79 157.77,465.72 177.32,434.88 196.86,430.56 216.41,482.07 235.95,500.58" fill="none" stroke="#1a1aa8" stroke-width="1.05" stroke-linejoin="round" />
<circle cx="60.05" cy="516" r="1.5" fill="#1a1aa8"/>
<circle cx="79.59" cy="516" r="1.5" fill="#1a1aa8"/>
<circle cx="99.14" cy="515.07" r="1.5" fill="#1a1aa8"/>
<circle cx="118.68" cy="513.53" r="1.5" fill="#1a1aa8"/>
<circle cx="138.23" cy="493.79" r="1.5" fill="#1a1aa8"/>
<circle cx="157.77" cy="465.72" r="1.5" fill="#1a1aa8"/>
<circle cx="177.32" cy="434.88" r="1.5" fill="#1a1aa8"/>
<circle cx="196.86" cy="430.56" r="1.5" fill="#1a1aa8"/>
<circle cx="216.41" cy="482.07" r="1.5" fill="#1a1aa8"/>
<circle cx="235.95" cy="500.58" r="1.5" fill="#1a1aa8"/>
<polyline points="60.05,516 79.59,516 99.14,515.07 118.68,513.53 138.23,499.34 157.77,453.08 177.32,416.37 196.86,427.48 216.41,490.71 235.95,503.66" fill="none" stroke="#8b0a0a" stroke-width="1.05" stroke-linejoin="round" />
<circle cx="60.05" cy="516" r="1.5" fill="#8b0a0a"/>
<circle cx="79.59" cy="516" r="1.5" fill="#8b0a0a"/>
<circle cx="99.14" cy="515.07" r="1.5" fill="#8b0a0a"/>
<circle cx="118.68" cy="513.53" r="1.5" fill="#8b0a0a"/>
<circle cx="138.23" cy="499.34" r="1.5" fill="#8b0a0a"/>
<circle cx="157.77" cy="453.08" r="1.5" fill="#8b0a0a"/>
<circle cx="177.32" cy="416.37" r="1.5" fill="#8b0a0a"/>
<circle cx="196.86" cy="427.48" r="1.5" fill="#8b0a0a"/>
<circle cx="216.41" cy="490.71" r="1.5" fill="#8b0a0a"/>
<circle cx="235.95" cy="503.66" r="1.5" fill="#8b0a0a"/>
<polyline points="60.05,516 79.59,516 99.14,515.69 118.68,515.07 138.23,506.75 157.77,472.82 177.32,416.68 196.86,470.35 216.41,452.46 235.95,470.35" fill="none" stroke="#9933ff" stroke-width="1.05" stroke-linejoin="round" />
<circle cx="60.05" cy="516" r="1.5" fill="#9933ff"/>
<circle cx="79.59" cy="516" r="1.5" fill="#9933ff"/>
<circle cx="99.14" cy="515.69" r="1.5" fill="#9933ff"/>
<circle cx="118.68" cy="515.07" r="1.5" fill="#9933ff"/>
<circle cx="138.23" cy="506.75" r="1.5" fill="#9933ff"/>
<circle cx="157.77" cy="472.82" r="1.5" fill="#9933ff"/>
<circle cx="177.32" cy="416.68" r="1.5" fill="#9933ff"/>
<circle cx="196.86" cy="470.35" r="1.5" fill="#9933ff"/>
<circle cx="216.41" cy="452.46" r="1.5" fill="#9933ff"/>
<circle cx="235.95" cy="470.35" r="1.5" fill="#9933ff"/>
<rect x="47.4" y="381.2" width="19.8" height="47.5" fill="none" stroke="#9a9a9a" stroke-width="0.8" stroke-dasharray="1.2,1.6"/>
<text x="57.3" y="390.2" font-size="10.9" font-weight="normal" text-anchor="middle" fill="#262626" stroke="#262626" stroke-width="0.45">S2</text>
<line x1="48.6" y1="395" x2="66" y2="395" stroke="#ff1a1a" stroke-width="1.1" opacity="0.75"/>
<circle cx="57.3" cy="395" r="1.7" fill="#ff1a1a"/>
<line x1="48.6" y1="404.8" x2="66" y2="404.8" stroke="#2020ff" stroke-width="1.1" opacity="0.75"/>
<circle cx="57.3" cy="404.8" r="1.7" fill="#2020ff"/>
<line x1="48.6" y1="414.9" x2="66" y2="414.9" stroke="#ff22ff" stroke-width="1.1" opacity="0.75"/>
<path d="M57.3 412.77L59.42 416.49L55.17 416.49Z" fill="#ff22ff"/>
<rect x="71.1" y="381.2" width="19.8" height="47.5" fill="none" stroke="#9a9a9a" stroke-width="0.8" stroke-dasharray="1.2,1.6"/>
<text x="81" y="390.2" font-size="10.9" font-weight="normal" text-anchor="middle" fill="#262626" stroke="#262626" stroke-width="0.45">S3</text>
<line x1="72.3" y1="395" x2="89.7" y2="395" stroke="#119911" stroke-width="1.1" opacity="0.75"/>
<circle cx="81" cy="395" r="1.7" fill="#119911"/>
<line x1="72.3" y1="404.8" x2="89.7" y2="404.8" stroke="#ff8c1a" stroke-width="1.1" opacity="0.75"/>
<circle cx="81" cy="404.8" r="1.7" fill="#ff8c1a"/>
<line x1="72.3" y1="414.9" x2="89.7" y2="414.9" stroke="#8c8c10" stroke-width="1.1" opacity="0.75"/>
<circle cx="81" cy="414.9" r="1.7" fill="#8c8c10"/>
<line x1="72.3" y1="424.8" x2="89.7" y2="424.8" stroke="#40d0c8" stroke-width="1.1" opacity="0.75"/>
<circle cx="81" cy="424.8" r="1.7" fill="#40d0c8"/>
<rect x="95.6" y="381.2" width="19.8" height="47.5" fill="none" stroke="#9a9a9a" stroke-width="0.8" stroke-dasharray="1.2,1.6"/>
<text x="105.5" y="390.2" font-size="10.9" font-weight="normal" text-anchor="middle" fill="#262626" stroke="#262626" stroke-width="0.45">S4</text>
<line x1="96.8" y1="395" x2="114.2" y2="395" stroke="#1a1aa8" stroke-width="1.1" opacity="0.75"/>
<circle cx="105.5" cy="395" r="1.7" fill="#1a1aa8"/>
<line x1="96.8" y1="404.8" x2="114.2" y2="404.8" stroke="#8b0a0a" stroke-width="1.1" opacity="0.75"/>
<circle cx="105.5" cy="404.8" r="1.7" fill="#8b0a0a"/>
<line x1="96.8" y1="414.9" x2="114.2" y2="414.9" stroke="#9933ff" stroke-width="1.1" opacity="0.75"/>
<circle cx="105.5" cy="414.9" r="1.7" fill="#9933ff"/>
<text x="0" y="0" font-size="9.0" font-weight="normal" text-anchor="start" fill="#262626" stroke="#262626" stroke-width="0.5" transform="translate(119.3,397.1) scale(1.075,1)">Interparticle pores</text>
<text x="0" y="0" font-size="9.0" font-weight="normal" text-anchor="start" fill="#262626" stroke="#262626" stroke-width="0.5" transform="translate(119.3,407.1) scale(1.075,1)">Intraparticle pores</text>
<text x="0" y="0" font-size="9.0" font-weight="normal" text-anchor="start" fill="#262626" stroke="#262626" stroke-width="0.5" transform="translate(119.3,416.6) scale(1.075,1)">Dissolution pores</text>
<text x="0" y="0" font-size="9.0" font-weight="normal" text-anchor="start" fill="#262626" stroke="#262626" stroke-width="0.5" transform="translate(119.3,426.6) scale(1.075,1)">Intercrystal pores</text>
<rect x="315.4" y="10.0" width="215.0" height="138.6" fill="none" stroke="#505050" stroke-width="1.3"/>
<line x1="311.2" y1="148.6" x2="315.4" y2="148.6" stroke="#505050" stroke-width="1.3" />
<text x="306.6" y="152.2" font-size="10.6" font-weight="normal" text-anchor="end" fill="#262626" stroke="#262626" stroke-width="0.4">0</text>
<line x1="311.2" y1="113.95" x2="315.4" y2="113.95" stroke="#505050" stroke-width="1.3" />
<text x="306.6" y="117.55" font-size="10.6" font-weight="normal" text-anchor="end" fill="#262626" stroke="#262626" stroke-width="0.4">1</text>
<line x1="311.2" y1="79.3" x2="315.4" y2="79.3" stroke="#505050" stroke-width="1.3" />
<text x="306.6" y="82.9" font-size="10.6" font-weight="normal" text-anchor="end" fill="#262626" stroke="#262626" stroke-width="0.4">2</text>
<line x1="311.2" y1="44.65" x2="315.4" y2="44.65" stroke="#505050" stroke-width="1.3" />
<text x="306.6" y="48.25" font-size="10.6" font-weight="normal" text-anchor="end" fill="#262626" stroke="#262626" stroke-width="0.4">3</text>
<line x1="311.2" y1="10" x2="315.4" y2="10" stroke="#505050" stroke-width="1.3" />
<text x="306.6" y="13.6" font-size="10.6" font-weight="normal" text-anchor="end" fill="#262626" stroke="#262626" stroke-width="0.4">4</text>
<line x1="315.4" y1="148.6" x2="315.4" y2="152.6" stroke="#505050" stroke-width="1.3" />
<text x="315.4" y="164.8" font-size="10.2" font-weight="normal" text-anchor="middle" fill="#262626" stroke="#262626" stroke-width="0.4">1</text>
<line x1="331.58" y1="148.6" x2="331.58" y2="150.8" stroke="#505050" stroke-width="1.0" />
<line x1="341.05" y1="148.6" x2="341.05" y2="150.8" stroke="#505050" stroke-width="1.0" />
<line x1="347.76" y1="148.6" x2="347.76" y2="150.8" stroke="#505050" stroke-width="1.0" />
<line x1="352.97" y1="148.6" x2="352.97" y2="150.8" stroke="#505050" stroke-width="1.0" />
<line x1="357.23" y1="148.6" x2="357.23" y2="150.8" stroke="#505050" stroke-width="1.0" />
<line x1="360.82" y1="148.6" x2="360.82" y2="150.8" stroke="#505050" stroke-width="1.0" />
<line x1="363.94" y1="148.6" x2="363.94" y2="150.8" stroke="#505050" stroke-width="1.0" />
<line x1="366.69" y1="148.6" x2="366.69" y2="150.8" stroke="#505050" stroke-width="1.0" />
<line x1="369.15" y1="148.6" x2="369.15" y2="152.6" stroke="#505050" stroke-width="1.3" />
<text x="369.15" y="164.8" font-size="10.2" font-weight="normal" text-anchor="middle" fill="#262626" stroke="#262626" stroke-width="0.4">10</text>
<line x1="385.33" y1="148.6" x2="385.33" y2="150.8" stroke="#505050" stroke-width="1.0" />
<line x1="394.8" y1="148.6" x2="394.8" y2="150.8" stroke="#505050" stroke-width="1.0" />
<line x1="401.51" y1="148.6" x2="401.51" y2="150.8" stroke="#505050" stroke-width="1.0" />
<line x1="406.72" y1="148.6" x2="406.72" y2="150.8" stroke="#505050" stroke-width="1.0" />
<line x1="410.98" y1="148.6" x2="410.98" y2="150.8" stroke="#505050" stroke-width="1.0" />
<line x1="414.57" y1="148.6" x2="414.57" y2="150.8" stroke="#505050" stroke-width="1.0" />
<line x1="417.69" y1="148.6" x2="417.69" y2="150.8" stroke="#505050" stroke-width="1.0" />
<line x1="420.44" y1="148.6" x2="420.44" y2="150.8" stroke="#505050" stroke-width="1.0" />
<line x1="422.9" y1="148.6" x2="422.9" y2="152.6" stroke="#505050" stroke-width="1.3" />
<text x="422.9" y="164.8" font-size="10.2" font-weight="normal" text-anchor="middle" fill="#262626" stroke="#262626" stroke-width="0.4">100</text>
<line x1="439.08" y1="148.6" x2="439.08" y2="150.8" stroke="#505050" stroke-width="1.0" />
<line x1="448.55" y1="148.6" x2="448.55" y2="150.8" stroke="#505050" stroke-width="1.0" />
<line x1="455.26" y1="148.6" x2="455.26" y2="150.8" stroke="#505050" stroke-width="1.0" />
<line x1="460.47" y1="148.6" x2="460.47" y2="150.8" stroke="#505050" stroke-width="1.0" />
<line x1="464.73" y1="148.6" x2="464.73" y2="150.8" stroke="#505050" stroke-width="1.0" />
<line x1="468.32" y1="148.6" x2="468.32" y2="150.8" stroke="#505050" stroke-width="1.0" />
<line x1="471.44" y1="148.6" x2="471.44" y2="150.8" stroke="#505050" stroke-width="1.0" />
<line x1="474.19" y1="148.6" x2="474.19" y2="150.8" stroke="#505050" stroke-width="1.0" />
<line x1="476.65" y1="148.6" x2="476.65" y2="152.6" stroke="#505050" stroke-width="1.3" />
<text x="476.65" y="164.8" font-size="10.2" font-weight="normal" text-anchor="middle" fill="#262626" stroke="#262626" stroke-width="0.4">1000</text>
<line x1="492.83" y1="148.6" x2="492.83" y2="150.8" stroke="#505050" stroke-width="1.0" />
<line x1="502.3" y1="148.6" x2="502.3" y2="150.8" stroke="#505050" stroke-width="1.0" />
<line x1="509.01" y1="148.6" x2="509.01" y2="150.8" stroke="#505050" stroke-width="1.0" />
<line x1="514.22" y1="148.6" x2="514.22" y2="150.8" stroke="#505050" stroke-width="1.0" />
<line x1="518.48" y1="148.6" x2="518.48" y2="150.8" stroke="#505050" stroke-width="1.0" />
<line x1="522.07" y1="148.6" x2="522.07" y2="150.8" stroke="#505050" stroke-width="1.0" />
<line x1="525.19" y1="148.6" x2="525.19" y2="150.8" stroke="#505050" stroke-width="1.0" />
<line x1="527.94" y1="148.6" x2="527.94" y2="150.8" stroke="#505050" stroke-width="1.0" />
<line x1="530.4" y1="148.6" x2="530.4" y2="152.6" stroke="#505050" stroke-width="1.3" />
<text x="530.4" y="164.8" font-size="10.2" font-weight="normal" text-anchor="middle" fill="#262626" stroke="#262626" stroke-width="0.4">10,000</text>
<text x="284.9" y="13.4" font-size="10.8" font-weight="bold" text-anchor="start" fill="#262626" >(d)</text>
<text x="319.2" y="26.4" font-size="10.6" font-weight="bold" text-anchor="start" fill="#262626" >S2</text>
<text x="0" y="0" font-size="10.6" font-weight="bold" text-anchor="middle" fill="#262626" transform="translate(295.9,79.7) rotate(-90)">Porosity (%)</text>
<text x="422.8" y="176.6" font-size="9.9" font-weight="bold" text-anchor="middle" fill="#262626" >Pore diameter (nm)</text>
<line x1="315.4" y1="63.71" x2="422.9" y2="63.71" stroke="#5a5a5a" stroke-width="1.05" stroke-dasharray="3,1.4"/>
<line x1="315.4" y1="111.35" x2="422.9" y2="111.35" stroke="#5a5a5a" stroke-width="1.05" stroke-dasharray="3,1.4"/>
<line x1="315.4" y1="119.32" x2="422.9" y2="119.32" stroke="#5a5a5a" stroke-width="1.05" stroke-dasharray="3,1.4"/>
<line x1="315.4" y1="130.58" x2="422.9" y2="130.58" stroke="#5a5a5a" stroke-width="1.05" stroke-dasharray="3,1.4"/>
<line x1="422.9" y1="63.71" x2="422.9" y2="148.6" stroke="#5a5a5a" stroke-width="1.05" stroke-dasharray="3,1.4"/>
<polyline points="369.15,114.75 385.33,114.75 401.51,114.75 410.98,116.38 417.69,117.76 422.9,119.15 427.16,119.97 430.75,120.88 433.87,122.48 436.62,123.89 439.08,125.15 441.31,126.19 443.34,127.06 445.2,127.86 446.93,128.59 448.55,129.28 450.05,130.07 451.47,130.92 452.8,131.71 454.06,132.47 455.26,133.18 456.4,134.06 457.49,134.96 458.52,135.81 459.52,136.64 460.47,137.43 461.39,138.18 462.27,138.76 463.12,139.18 463.93,139.58 464.73,139.96 465.49,140.34 466.23,140.7 466.95,141.05 467.65,141.39 468.32,141.71 468.98,141.96 469.62,142.21 470.24,142.45 470.85,142.69 471.44,142.91 472.02,143.14 472.58,143.35 473.13,143.57 473.67,143.77 474.19,143.98 474.7,144.17 475.21,144.36 475.7,144.55 476.18,144.73 476.65,144.91 477.11,145.08 477.57,145.26 478.01,145.42 478.45,145.59 478.87,145.75 479.3,145.91 479.71,146.07 480.11,146.22 480.51,146.37 480.91,146.52 481.29,146.68 481.67,146.83 482.04,146.98 482.41,147.12 482.77,147.27 483.13,147.41 483.48,147.55 483.83,147.69 484.17,147.82 484.5,147.96 484.84,148.09 485.16,148.22 485.48,148.35 485.8,148.47 486.11,148.6" fill="none" stroke="#ff1a1a" stroke-width="0.95" stroke-linejoin="round" />
<circle cx="369.15" cy="114.75" r="1.25" fill="#ff1a1a"/>
<circle cx="385.33" cy="114.75" r="1.25" fill="#ff1a1a"/>
<circle cx="401.51" cy="114.75" r="1.25" fill="#ff1a1a"/>
<circle cx="410.98" cy="116.38" r="1.25" fill="#ff1a1a"/>
<circle cx="417.69" cy="117.76" r="1.25" fill="#ff1a1a"/>
<circle cx="422.9" cy="119.15" r="1.25" fill="#ff1a1a"/>
<circle cx="427.16" cy="119.97" r="1.25" fill="#ff1a1a"/>
<circle cx="430.75" cy="120.88" r="1.25" fill="#ff1a1a"/>
<circle cx="433.87" cy="122.48" r="1.25" fill="#ff1a1a"/>
<circle cx="436.62" cy="123.89" r="1.25" fill="#ff1a1a"/>
<circle cx="439.08" cy="125.15" r="1.25" fill="#ff1a1a"/>
<circle cx="441.31" cy="126.19" r="1.25" fill="#ff1a1a"/>
<circle cx="443.34" cy="127.06" r="1.25" fill="#ff1a1a"/>
<circle cx="445.2" cy="127.86" r="1.25" fill="#ff1a1a"/>
<circle cx="446.93" cy="128.59" r="1.25" fill="#ff1a1a"/>
<circle cx="448.55" cy="129.28" r="1.25" fill="#ff1a1a"/>
<circle cx="450.05" cy="130.07" r="1.25" fill="#ff1a1a"/>
<circle cx="451.47" cy="130.92" r="1.25" fill="#ff1a1a"/>
<circle cx="452.8" cy="131.71" r="1.25" fill="#ff1a1a"/>
<circle cx="454.06" cy="132.47" r="1.25" fill="#ff1a1a"/>
<circle cx="455.26" cy="133.18" r="1.25" fill="#ff1a1a"/>
<circle cx="456.4" cy="134.06" r="1.25" fill="#ff1a1a"/>
<circle cx="457.49" cy="134.96" r="1.25" fill="#ff1a1a"/>
<circle cx="458.52" cy="135.81" r="1.25" fill="#ff1a1a"/>
<circle cx="459.52" cy="136.64" r="1.25" fill="#ff1a1a"/>
<circle cx="460.47" cy="137.43" r="1.25" fill="#ff1a1a"/>
<circle cx="461.39" cy="138.18" r="1.25" fill="#ff1a1a"/>
<circle cx="462.27" cy="138.76" r="1.25" fill="#ff1a1a"/>
<circle cx="463.12" cy="139.18" r="1.25" fill="#ff1a1a"/>
<circle cx="463.93" cy="139.58" r="1.25" fill="#ff1a1a"/>
<circle cx="464.73" cy="139.96" r="1.25" fill="#ff1a1a"/>
<circle cx="465.49" cy="140.34" r="1.25" fill="#ff1a1a"/>
<circle cx="466.23" cy="140.7" r="1.25" fill="#ff1a1a"/>
<circle cx="466.95" cy="141.05" r="1.25" fill="#ff1a1a"/>
<circle cx="467.65" cy="141.39" r="1.25" fill="#ff1a1a"/>
<circle cx="468.32" cy="141.71" r="1.25" fill="#ff1a1a"/>
<circle cx="468.98" cy="141.96" r="1.25" fill="#ff1a1a"/>
<circle cx="469.62" cy="142.21" r="1.25" fill="#ff1a1a"/>
<circle cx="470.24" cy="142.45" r="1.25" fill="#ff1a1a"/>
<circle cx="470.85" cy="142.69" r="1.25" fill="#ff1a1a"/>
<circle cx="471.44" cy="142.91" r="1.25" fill="#ff1a1a"/>
<circle cx="472.02" cy="143.14" r="1.25" fill="#ff1a1a"/>
<circle cx="472.58" cy="143.35" r="1.25" fill="#ff1a1a"/>
<circle cx="473.13" cy="143.57" r="1.25" fill="#ff1a1a"/>
<circle cx="473.67" cy="143.77" r="1.25" fill="#ff1a1a"/>
<circle cx="474.19" cy="143.98" r="1.25" fill="#ff1a1a"/>
<circle cx="474.7" cy="144.17" r="1.25" fill="#ff1a1a"/>
<circle cx="475.21" cy="144.36" r="1.25" fill="#ff1a1a"/>
<circle cx="475.7" cy="144.55" r="1.25" fill="#ff1a1a"/>
<circle cx="476.18" cy="144.73" r="1.25" fill="#ff1a1a"/>
<circle cx="476.65" cy="144.91" r="1.25" fill="#ff1a1a"/>
<circle cx="477.11" cy="145.08" r="1.25" fill="#ff1a1a"/>
<circle cx="477.57" cy="145.26" r="1.25" fill="#ff1a1a"/>
<circle cx="478.01" cy="145.42" r="1.25" fill="#ff1a1a"/>
<circle cx="478.45" cy="145.59" r="1.25" fill="#ff1a1a"/>
<circle cx="478.87" cy="145.75" r="1.25" fill="#ff1a1a"/>
<circle cx="479.3" cy="145.91" r="1.25" fill="#ff1a1a"/>
<circle cx="479.71" cy="146.07" r="1.25" fill="#ff1a1a"/>
<circle cx="480.11" cy="146.22" r="1.25" fill="#ff1a1a"/>
<circle cx="480.51" cy="146.37" r="1.25" fill="#ff1a1a"/>
<circle cx="480.91" cy="146.52" r="1.25" fill="#ff1a1a"/>
<circle cx="481.29" cy="146.68" r="1.25" fill="#ff1a1a"/>
<circle cx="481.67" cy="146.83" r="1.25" fill="#ff1a1a"/>
<circle cx="482.04" cy="146.98" r="1.25" fill="#ff1a1a"/>
<circle cx="482.41" cy="147.12" r="1.25" fill="#ff1a1a"/>
<circle cx="482.77" cy="147.27" r="1.25" fill="#ff1a1a"/>
<circle cx="483.13" cy="147.41" r="1.25" fill="#ff1a1a"/>
<circle cx="483.48" cy="147.55" r="1.25" fill="#ff1a1a"/>
<circle cx="483.83" cy="147.69" r="1.25" fill="#ff1a1a"/>
<circle cx="484.17" cy="147.82" r="1.25" fill="#ff1a1a"/>
<circle cx="484.5" cy="147.96" r="1.25" fill="#ff1a1a"/>
<circle cx="484.84" cy="148.09" r="1.25" fill="#ff1a1a"/>
<circle cx="485.16" cy="148.22" r="1.25" fill="#ff1a1a"/>
<circle cx="485.48" cy="148.35" r="1.25" fill="#ff1a1a"/>
<circle cx="485.8" cy="148.47" r="1.25" fill="#ff1a1a"/>
<circle cx="486.11" cy="148.6" r="1.25" fill="#ff1a1a"/>
<polyline points="369.15,99.74 385.33,99.74 401.51,99.74 410.98,104.94 417.69,108.41 422.9,110.66 427.16,112.82 430.75,114.89 433.87,117.6 436.62,120 439.08,122.14 441.31,123.91 443.34,125.37 445.2,126.71 446.93,127.95 448.55,129.1 450.05,130.41 451.47,131.79 452.8,133.1 454.06,134.33 455.26,135.5 456.4,136.48 457.49,137.38 458.52,138.24 459.52,139.06 460.47,139.85 461.39,140.61 462.27,141.24 463.12,141.74 463.93,142.23 464.73,142.7 465.49,143.16 466.23,143.6 466.95,144.03 467.65,144.44 468.32,144.83 468.98,145.08 469.62,145.33 470.24,145.57 470.85,145.8 471.44,146.03 472.02,146.25 472.58,146.47 473.13,146.68 473.67,146.89 474.19,147.09 474.7,147.26 475.21,147.37 475.7,147.47 476.18,147.58 476.65,147.68 477.11,147.78 477.57,147.88 478.01,147.97 478.45,148.07 478.87,148.16 479.3,148.25 479.71,148.34 480.11,148.43 480.51,148.52 480.91,148.6" fill="none" stroke="#2020ff" stroke-width="0.95" stroke-linejoin="round" />
<circle cx="369.15" cy="99.74" r="1.25" fill="#2020ff"/>
<circle cx="385.33" cy="99.74" r="1.25" fill="#2020ff"/>
<circle cx="401.51" cy="99.74" r="1.25" fill="#2020ff"/>
<circle cx="410.98" cy="104.94" r="1.25" fill="#2020ff"/>
<circle cx="417.69" cy="108.41" r="1.25" fill="#2020ff"/>
<circle cx="422.9" cy="110.66" r="1.25" fill="#2020ff"/>
<circle cx="427.16" cy="112.82" r="1.25" fill="#2020ff"/>
<circle cx="430.75" cy="114.89" r="1.25" fill="#2020ff"/>
<circle cx="433.87" cy="117.6" r="1.25" fill="#2020ff"/>
<circle cx="436.62" cy="120" r="1.25" fill="#2020ff"/>
<circle cx="439.08" cy="122.14" r="1.25" fill="#2020ff"/>
<circle cx="441.31" cy="123.91" r="1.25" fill="#2020ff"/>
<circle cx="443.34" cy="125.37" r="1.25" fill="#2020ff"/>
<circle cx="445.2" cy="126.71" r="1.25" fill="#2020ff"/>
<circle cx="446.93" cy="127.95" r="1.25" fill="#2020ff"/>
<circle cx="448.55" cy="129.1" r="1.25" fill="#2020ff"/>
<circle cx="450.05" cy="130.41" r="1.25" fill="#2020ff"/>
<circle cx="451.47" cy="131.79" r="1.25" fill="#2020ff"/>
<circle cx="452.8" cy="133.1" r="1.25" fill="#2020ff"/>
<circle cx="454.06" cy="134.33" r="1.25" fill="#2020ff"/>
<circle cx="455.26" cy="135.5" r="1.25" fill="#2020ff"/>
<circle cx="456.4" cy="136.48" r="1.25" fill="#2020ff"/>
<circle cx="457.49" cy="137.38" r="1.25" fill="#2020ff"/>
<circle cx="458.52" cy="138.24" r="1.25" fill="#2020ff"/>
<circle cx="459.52" cy="139.06" r="1.25" fill="#2020ff"/>
<circle cx="460.47" cy="139.85" r="1.25" fill="#2020ff"/>
<circle cx="461.39" cy="140.61" r="1.25" fill="#2020ff"/>
<circle cx="462.27" cy="141.24" r="1.25" fill="#2020ff"/>
<circle cx="463.12" cy="141.74" r="1.25" fill="#2020ff"/>
<circle cx="463.93" cy="142.23" r="1.25" fill="#2020ff"/>
<circle cx="464.73" cy="142.7" r="1.25" fill="#2020ff"/>
<circle cx="465.49" cy="143.16" r="1.25" fill="#2020ff"/>
<circle cx="466.23" cy="143.6" r="1.25" fill="#2020ff"/>
<circle cx="466.95" cy="144.03" r="1.25" fill="#2020ff"/>
<circle cx="467.65" cy="144.44" r="1.25" fill="#2020ff"/>
<circle cx="468.32" cy="144.83" r="1.25" fill="#2020ff"/>
<circle cx="468.98" cy="145.08" r="1.25" fill="#2020ff"/>
<circle cx="469.62" cy="145.33" r="1.25" fill="#2020ff"/>
<circle cx="470.24" cy="145.57" r="1.25" fill="#2020ff"/>
<circle cx="470.85" cy="145.8" r="1.25" fill="#2020ff"/>
<circle cx="471.44" cy="146.03" r="1.25" fill="#2020ff"/>
<circle cx="472.02" cy="146.25" r="1.25" fill="#2020ff"/>
<circle cx="472.58" cy="146.47" r="1.25" fill="#2020ff"/>
<circle cx="473.13" cy="146.68" r="1.25" fill="#2020ff"/>
<circle cx="473.67" cy="146.89" r="1.25" fill="#2020ff"/>
<circle cx="474.19" cy="147.09" r="1.25" fill="#2020ff"/>
<circle cx="474.7" cy="147.26" r="1.25" fill="#2020ff"/>
<circle cx="475.21" cy="147.37" r="1.25" fill="#2020ff"/>
<circle cx="475.7" cy="147.47" r="1.25" fill="#2020ff"/>
<circle cx="476.18" cy="147.58" r="1.25" fill="#2020ff"/>
<circle cx="476.65" cy="147.68" r="1.25" fill="#2020ff"/>
<circle cx="477.11" cy="147.78" r="1.25" fill="#2020ff"/>
<circle cx="477.57" cy="147.88" r="1.25" fill="#2020ff"/>
<circle cx="478.01" cy="147.97" r="1.25" fill="#2020ff"/>
<circle cx="478.45" cy="148.07" r="1.25" fill="#2020ff"/>
<circle cx="478.87" cy="148.16" r="1.25" fill="#2020ff"/>
<circle cx="479.3" cy="148.25" r="1.25" fill="#2020ff"/>
<circle cx="479.71" cy="148.34" r="1.25" fill="#2020ff"/>
<circle cx="480.11" cy="148.43" r="1.25" fill="#2020ff"/>
<circle cx="480.51" cy="148.52" r="1.25" fill="#2020ff"/>
<circle cx="480.91" cy="148.6" r="1.25" fill="#2020ff"/>
<polyline points="369.15,125.83 385.33,125.83 401.51,125.83 410.98,127.81 417.69,129.2 422.9,130.58 427.16,131.4 430.75,132.31 433.87,133.91 436.62,135.32 439.08,136.58 441.31,137.71 443.34,138.74 445.2,139.68 446.93,140.55 448.55,141.36 450.05,142.01 451.47,142.55 452.8,143.05 454.06,143.53 455.26,143.99 456.4,144.35 457.49,144.68 458.52,145 459.52,145.3 460.47,145.59 461.39,145.87 462.27,146.08 463.12,146.25 463.93,146.4 464.73,146.55 465.49,146.7 466.23,146.84 466.95,146.97 467.65,147.1 468.32,147.23 468.98,147.32 469.62,147.4 470.24,147.49 470.85,147.57 471.44,147.65 472.02,147.73 472.58,147.8 473.13,147.88 473.67,147.95 474.19,148.02 474.7,148.09 475.21,148.16 475.7,148.23 476.18,148.29 476.65,148.36 477.11,148.42 477.57,148.48 478.01,148.54 478.45,148.6" fill="none" stroke="#139090" stroke-width="0.95" stroke-linejoin="round" />
<path d="M369.15 124.27L370.71 127.01L367.59 127.01Z" fill="#139090"/>
<path d="M385.33 124.27L386.89 127.01L383.77 127.01Z" fill="#139090"/>
<path d="M401.51 124.27L403.07 127.01L399.95 127.01Z" fill="#139090"/>
<path d="M410.98 126.25L412.54 128.98L409.41 128.98Z" fill="#139090"/>
<path d="M417.69 127.63L419.25 130.37L416.13 130.37Z" fill="#139090"/>
<path d="M422.9 129.02L424.46 131.75L421.34 131.75Z" fill="#139090"/>
<path d="M427.16 129.84L428.72 132.58L425.59 132.58Z" fill="#139090"/>
<path d="M430.75 130.75L432.32 133.49L429.19 133.49Z" fill="#139090"/>
<path d="M433.87 132.35L435.43 135.08L432.31 135.08Z" fill="#139090"/>
<path d="M436.62 133.76L438.18 136.49L435.06 136.49Z" fill="#139090"/>
<path d="M439.08 135.02L440.64 137.75L437.52 137.75Z" fill="#139090"/>
<path d="M441.31 136.15L442.87 138.88L439.74 138.88Z" fill="#139090"/>
<path d="M443.34 137.17L444.9 139.91L441.77 139.91Z" fill="#139090"/>
<path d="M445.2 138.11L446.77 140.85L443.64 140.85Z" fill="#139090"/>
<path d="M446.93 138.99L448.5 141.72L445.37 141.72Z" fill="#139090"/>
<path d="M448.55 139.8L450.11 142.53L446.98 142.53Z" fill="#139090"/>
<path d="M450.05 140.45L451.61 143.18L448.49 143.18Z" fill="#139090"/>
<path d="M451.47 140.98L453.03 143.72L449.9 143.72Z" fill="#139090"/>
<path d="M452.8 141.49L454.36 144.22L451.24 144.22Z" fill="#139090"/>
<path d="M454.06 141.97L455.63 144.7L452.5 144.7Z" fill="#139090"/>
<path d="M455.26 142.42L456.82 145.16L453.7 145.16Z" fill="#139090"/>
<path d="M456.4 142.79L457.96 145.53L454.84 145.53Z" fill="#139090"/>
<path d="M457.49 143.12L459.05 145.85L455.92 145.85Z" fill="#139090"/>
<path d="M458.52 143.44L460.09 146.17L456.96 146.17Z" fill="#139090"/>
<path d="M459.52 143.74L461.08 146.47L457.95 146.47Z" fill="#139090"/>
<path d="M460.47 144.03L462.03 146.76L458.91 146.76Z" fill="#139090"/>
<path d="M461.39 144.3L462.95 147.04L459.82 147.04Z" fill="#139090"/>
<path d="M462.27 144.52L463.83 147.26L460.7 147.26Z" fill="#139090"/>
<path d="M463.12 144.68L464.68 147.42L461.55 147.42Z" fill="#139090"/>
<path d="M463.93 144.84L465.5 147.57L462.37 147.57Z" fill="#139090"/>
<path d="M464.73 144.99L466.29 147.72L463.16 147.72Z" fill="#139090"/>
<path d="M465.49 145.13L467.05 147.87L463.93 147.87Z" fill="#139090"/>
<path d="M466.23 145.27L467.79 148.01L464.67 148.01Z" fill="#139090"/>
<path d="M466.95 145.41L468.51 148.14L465.39 148.14Z" fill="#139090"/>
<path d="M467.65 145.54L469.21 148.28L466.08 148.28Z" fill="#139090"/>
<path d="M468.32 145.67L469.89 148.4L466.76 148.4Z" fill="#139090"/>
<path d="M468.98 145.75L470.54 148.49L467.42 148.49Z" fill="#139090"/>
<path d="M469.62 145.84L471.18 148.58L468.06 148.58Z" fill="#139090"/>
<path d="M470.24 145.93L471.81 148.66L468.68 148.66Z" fill="#139090"/>
<path d="M470.85 146.01L472.41 148.74L469.29 148.74Z" fill="#139090"/>
<path d="M471.44 146.09L473 148.82L469.88 148.82Z" fill="#139090"/>
<path d="M472.02 146.17L473.58 148.9L470.45 148.9Z" fill="#139090"/>
<path d="M472.58 146.24L474.14 148.98L471.02 148.98Z" fill="#139090"/>
<path d="M473.13 146.32L474.69 149.05L471.57 149.05Z" fill="#139090"/>
<path d="M473.67 146.39L475.23 149.12L472.1 149.12Z" fill="#139090"/>
<path d="M474.19 146.46L475.75 149.19L472.63 149.19Z" fill="#139090"/>
<path d="M474.7 146.53L476.27 149.26L473.14 149.26Z" fill="#139090"/>
<path d="M475.21 146.6L476.77 149.33L473.64 149.33Z" fill="#139090"/>
<path d="M475.7 146.66L477.26 149.4L474.13 149.4Z" fill="#139090"/>
<path d="M476.18 146.73L477.74 149.46L474.62 149.46Z" fill="#139090"/>
<path d="M476.65 146.79L478.21 149.53L475.09 149.53Z" fill="#139090"/>
<path d="M477.11 146.86L478.67 149.59L475.55 149.59Z" fill="#139090"/>
<path d="M477.57 146.92L479.13 149.65L476 149.65Z" fill="#139090"/>
<path d="M478.01 146.98L479.57 149.71L476.45 149.71Z" fill="#139090"/>
<path d="M478.45 147.04L480.01 149.77L476.88 149.77Z" fill="#139090"/>
<polyline points="369.15,43.61 385.33,43.61 401.51,43.61 410.98,52.62 417.69,58.51 422.9,63.71 427.16,68.68 430.75,72.89 433.87,76.54 436.62,81.21 439.08,85.56 441.31,89.48 443.34,93.07 445.2,96.33 446.93,99.31 448.55,102.08 450.05,104.67 451.47,107.38 452.8,110.04 454.06,112.55 455.26,114.93 456.4,116.89 457.49,118.66 458.52,120.35 459.52,121.97 460.47,123.52 461.39,125.01 462.27,126.35 463.12,127.54 463.93,128.7 464.73,129.81 465.49,130.89 466.23,131.93 466.95,132.95 467.65,133.93 468.32,134.86 468.98,135.67 469.62,136.46 470.24,137.23 470.85,137.97 471.44,138.7 472.02,139.41 472.58,140.1 473.13,140.78 473.67,141.15 474.19,141.4 474.7,141.64 475.21,141.88 475.7,142.11 476.18,142.34 476.65,142.56 477.11,142.78 477.57,143 478.01,143.21 478.45,143.41 478.87,143.63 479.3,143.85 479.71,144.06 480.11,144.26 480.51,144.47 480.91,144.67 481.29,144.87 481.67,145.06 482.04,145.25 482.41,145.44 482.77,145.62 483.13,145.8 483.48,145.98 483.83,146.13 484.17,146.27 484.5,146.41 484.84,146.54 485.16,146.68 485.48,146.81 485.8,146.94 486.11,147.07 486.42,147.19 486.73,147.32 487.03,147.44 487.33,147.57 487.62,147.69 487.91,147.81 488.2,147.92 488.48,148.04 488.76,148.15 489.04,148.27 489.31,148.38 489.58,148.49 489.85,148.6" fill="none" stroke="#ff8c1a" stroke-width="0.95" stroke-linejoin="round" />
<circle cx="369.15" cy="43.61" r="1.25" fill="#ff8c1a"/>
<circle cx="385.33" cy="43.61" r="1.25" fill="#ff8c1a"/>
<circle cx="401.51" cy="43.61" r="1.25" fill="#ff8c1a"/>
<circle cx="410.98" cy="52.62" r="1.25" fill="#ff8c1a"/>
<circle cx="417.69" cy="58.51" r="1.25" fill="#ff8c1a"/>
<circle cx="422.9" cy="63.71" r="1.25" fill="#ff8c1a"/>
<circle cx="427.16" cy="68.68" r="1.25" fill="#ff8c1a"/>
<circle cx="430.75" cy="72.89" r="1.25" fill="#ff8c1a"/>
<circle cx="433.87" cy="76.54" r="1.25" fill="#ff8c1a"/>
<circle cx="436.62" cy="81.21" r="1.25" fill="#ff8c1a"/>
<circle cx="439.08" cy="85.56" r="1.25" fill="#ff8c1a"/>
<circle cx="441.31" cy="89.48" r="1.25" fill="#ff8c1a"/>
<circle cx="443.34" cy="93.07" r="1.25" fill="#ff8c1a"/>
<circle cx="445.2" cy="96.33" r="1.25" fill="#ff8c1a"/>
<circle cx="446.93" cy="99.31" r="1.25" fill="#ff8c1a"/>
<circle cx="448.55" cy="102.08" r="1.25" fill="#ff8c1a"/>
<circle cx="450.05" cy="104.67" r="1.25" fill="#ff8c1a"/>
<circle cx="451.47" cy="107.38" r="1.25" fill="#ff8c1a"/>
<circle cx="452.8" cy="110.04" r="1.25" fill="#ff8c1a"/>
<circle cx="454.06" cy="112.55" r="1.25" fill="#ff8c1a"/>
<circle cx="455.26" cy="114.93" r="1.25" fill="#ff8c1a"/>
<circle cx="456.4" cy="116.89" r="1.25" fill="#ff8c1a"/>
<circle cx="457.49" cy="118.66" r="1.25" fill="#ff8c1a"/>
<circle cx="458.52" cy="120.35" r="1.25" fill="#ff8c1a"/>
<circle cx="459.52" cy="121.97" r="1.25" fill="#ff8c1a"/>
<circle cx="460.47" cy="123.52" r="1.25" fill="#ff8c1a"/>
<circle cx="461.39" cy="125.01" r="1.25" fill="#ff8c1a"/>
<circle cx="462.27" cy="126.35" r="1.25" fill="#ff8c1a"/>
<circle cx="463.12" cy="127.54" r="1.25" fill="#ff8c1a"/>
<circle cx="463.93" cy="128.7" r="1.25" fill="#ff8c1a"/>
<circle cx="464.73" cy="129.81" r="1.25" fill="#ff8c1a"/>
<circle cx="465.49" cy="130.89" r="1.25" fill="#ff8c1a"/>
<circle cx="466.23" cy="131.93" r="1.25" fill="#ff8c1a"/>
<circle cx="466.95" cy="132.95" r="1.25" fill="#ff8c1a"/>
<circle cx="467.65" cy="133.93" r="1.25" fill="#ff8c1a"/>
<circle cx="468.32" cy="134.86" r="1.25" fill="#ff8c1a"/>
<circle cx="468.98" cy="135.67" r="1.25" fill="#ff8c1a"/>
<circle cx="469.62" cy="136.46" r="1.25" fill="#ff8c1a"/>
<circle cx="470.24" cy="137.23" r="1.25" fill="#ff8c1a"/>
<circle cx="470.85" cy="137.97" r="1.25" fill="#ff8c1a"/>
<circle cx="471.44" cy="138.7" r="1.25" fill="#ff8c1a"/>
<circle cx="472.02" cy="139.41" r="1.25" fill="#ff8c1a"/>
<circle cx="472.58" cy="140.1" r="1.25" fill="#ff8c1a"/>
<circle cx="473.13" cy="140.78" r="1.25" fill="#ff8c1a"/>
<circle cx="473.67" cy="141.15" r="1.25" fill="#ff8c1a"/>
<circle cx="474.19" cy="141.4" r="1.25" fill="#ff8c1a"/>
<circle cx="474.7" cy="141.64" r="1.25" fill="#ff8c1a"/>
<circle cx="475.21" cy="141.88" r="1.25" fill="#ff8c1a"/>
<circle cx="475.7" cy="142.11" r="1.25" fill="#ff8c1a"/>
<circle cx="476.18" cy="142.34" r="1.25" fill="#ff8c1a"/>
<circle cx="476.65" cy="142.56" r="1.25" fill="#ff8c1a"/>
<circle cx="477.11" cy="142.78" r="1.25" fill="#ff8c1a"/>
<circle cx="477.57" cy="143" r="1.25" fill="#ff8c1a"/>
<circle cx="478.01" cy="143.21" r="1.25" fill="#ff8c1a"/>
<circle cx="478.45" cy="143.41" r="1.25" fill="#ff8c1a"/>
<circle cx="478.87" cy="143.63" r="1.25" fill="#ff8c1a"/>
<circle cx="479.3" cy="143.85" r="1.25" fill="#ff8c1a"/>
<circle cx="479.71" cy="144.06" r="1.25" fill="#ff8c1a"/>
<circle cx="480.11" cy="144.26" r="1.25" fill="#ff8c1a"/>
<circle cx="480.51" cy="144.47" r="1.25" fill="#ff8c1a"/>
<circle cx="480.91" cy="144.67" r="1.25" fill="#ff8c1a"/>
<circle cx="481.29" cy="144.87" r="1.25" fill="#ff8c1a"/>
<circle cx="481.67" cy="145.06" r="1.25" fill="#ff8c1a"/>
<circle cx="482.04" cy="145.25" r="1.25" fill="#ff8c1a"/>
<circle cx="482.41" cy="145.44" r="1.25" fill="#ff8c1a"/>
<circle cx="482.77" cy="145.62" r="1.25" fill="#ff8c1a"/>
<circle cx="483.13" cy="145.8" r="1.25" fill="#ff8c1a"/>
<circle cx="483.48" cy="145.98" r="1.25" fill="#ff8c1a"/>
<circle cx="483.83" cy="146.13" r="1.25" fill="#ff8c1a"/>
<circle cx="484.17" cy="146.27" r="1.25" fill="#ff8c1a"/>
<circle cx="484.5" cy="146.41" r="1.25" fill="#ff8c1a"/>
<circle cx="484.84" cy="146.54" r="1.25" fill="#ff8c1a"/>
<circle cx="485.16" cy="146.68" r="1.25" fill="#ff8c1a"/>
<circle cx="485.48" cy="146.81" r="1.25" fill="#ff8c1a"/>
<circle cx="485.8" cy="146.94" r="1.25" fill="#ff8c1a"/>
<circle cx="486.11" cy="147.07" r="1.25" fill="#ff8c1a"/>
<circle cx="486.42" cy="147.19" r="1.25" fill="#ff8c1a"/>
<circle cx="486.73" cy="147.32" r="1.25" fill="#ff8c1a"/>
<circle cx="487.03" cy="147.44" r="1.25" fill="#ff8c1a"/>
<circle cx="487.33" cy="147.57" r="1.25" fill="#ff8c1a"/>
<circle cx="487.62" cy="147.69" r="1.25" fill="#ff8c1a"/>
<circle cx="487.91" cy="147.81" r="1.25" fill="#ff8c1a"/>
<circle cx="488.2" cy="147.92" r="1.25" fill="#ff8c1a"/>
<circle cx="488.48" cy="148.04" r="1.25" fill="#ff8c1a"/>
<circle cx="488.76" cy="148.15" r="1.25" fill="#ff8c1a"/>
<circle cx="489.04" cy="148.27" r="1.25" fill="#ff8c1a"/>
<circle cx="489.31" cy="148.38" r="1.25" fill="#ff8c1a"/>
<circle cx="489.58" cy="148.49" r="1.25" fill="#ff8c1a"/>
<circle cx="489.85" cy="148.6" r="1.25" fill="#ff8c1a"/>
<line x1="414" y1="20.3" x2="432.3" y2="20.3" stroke="#ff1a1a" stroke-width="1.1" />
<circle cx="423" cy="20.3" r="1.6" fill="#ff1a1a"/>
<text x="0" y="0" font-size="8.1" font-weight="normal" text-anchor="start" fill="#262626" stroke="#262626" stroke-width="0.5" transform="translate(433.6,22.8) scale(1.095,1)">Interparticle pores</text>
<text x="501.7" y="22.9" font-size="8.3" font-weight="normal" text-anchor="start" fill="#262626" stroke="#262626" stroke-width="0.45">481 nm</text>
<line x1="414" y1="30.3" x2="432.3" y2="30.3" stroke="#2020ff" stroke-width="1.1" />
<circle cx="423" cy="30.3" r="1.6" fill="#2020ff"/>
<text x="0" y="0" font-size="8.1" font-weight="normal" text-anchor="start" fill="#262626" stroke="#262626" stroke-width="0.5" transform="translate(433.6,32.8) scale(1.095,1)">Intraparticle pores</text>
<text x="501.7" y="32.9" font-size="8.3" font-weight="normal" text-anchor="start" fill="#262626" stroke="#262626" stroke-width="0.45">298 nm</text>
<line x1="414" y1="40.2" x2="432.3" y2="40.2" stroke="#139090" stroke-width="1.1" />
<path d="M423 38.2L425 41.7L421 41.7Z" fill="#139090"/>
<text x="0" y="0" font-size="8.1" font-weight="normal" text-anchor="start" fill="#262626" stroke="#262626" stroke-width="0.5" transform="translate(433.6,42.7) scale(1.095,1)">Dissolution pores</text>
<text x="501.7" y="42.8" font-size="8.3" font-weight="normal" text-anchor="start" fill="#262626" stroke="#262626" stroke-width="0.45">317 nm</text>
<line x1="414" y1="50" x2="432.3" y2="50" stroke="#ff8c1a" stroke-width="1.1" />
<circle cx="423" cy="50" r="1.6" fill="#ff8c1a"/>
<text x="0" y="0" font-size="8.1" font-weight="normal" text-anchor="start" fill="#262626" stroke="#262626" stroke-width="0.5" transform="translate(433.6,52.5) scale(1.095,1)">Total</text>
<text x="501.7" y="52.6" font-size="8.3" font-weight="normal" text-anchor="start" fill="#262626" stroke="#262626" stroke-width="0.45">381 nm</text>
<rect x="315.4" y="193.7" width="215.0" height="138.4" fill="none" stroke="#505050" stroke-width="1.3"/>
<line x1="311.2" y1="332.1" x2="315.4" y2="332.1" stroke="#505050" stroke-width="1.3" />
<text x="306.6" y="335.7" font-size="10.6" font-weight="normal" text-anchor="end" fill="#262626" stroke="#262626" stroke-width="0.4">0</text>
<line x1="311.2" y1="312.33" x2="315.4" y2="312.33" stroke="#505050" stroke-width="1.3" />
<text x="306.6" y="315.93" font-size="10.6" font-weight="normal" text-anchor="end" fill="#262626" stroke="#262626" stroke-width="0.4">1</text>
<line x1="311.2" y1="292.56" x2="315.4" y2="292.56" stroke="#505050" stroke-width="1.3" />
<text x="306.6" y="296.16" font-size="10.6" font-weight="normal" text-anchor="end" fill="#262626" stroke="#262626" stroke-width="0.4">2</text>
<line x1="311.2" y1="272.79" x2="315.4" y2="272.79" stroke="#505050" stroke-width="1.3" />
<text x="306.6" y="276.39" font-size="10.6" font-weight="normal" text-anchor="end" fill="#262626" stroke="#262626" stroke-width="0.4">3</text>
<line x1="311.2" y1="253.01" x2="315.4" y2="253.01" stroke="#505050" stroke-width="1.3" />
<text x="306.6" y="256.61" font-size="10.6" font-weight="normal" text-anchor="end" fill="#262626" stroke="#262626" stroke-width="0.4">4</text>
<line x1="311.2" y1="233.24" x2="315.4" y2="233.24" stroke="#505050" stroke-width="1.3" />
<text x="306.6" y="236.84" font-size="10.6" font-weight="normal" text-anchor="end" fill="#262626" stroke="#262626" stroke-width="0.4">5</text>
<line x1="311.2" y1="213.47" x2="315.4" y2="213.47" stroke="#505050" stroke-width="1.3" />
<text x="306.6" y="217.07" font-size="10.6" font-weight="normal" text-anchor="end" fill="#262626" stroke="#262626" stroke-width="0.4">6</text>
<line x1="311.2" y1="193.7" x2="315.4" y2="193.7" stroke="#505050" stroke-width="1.3" />
<text x="306.6" y="197.3" font-size="10.6" font-weight="normal" text-anchor="end" fill="#262626" stroke="#262626" stroke-width="0.4">7</text>
<line x1="315.4" y1="332.1" x2="315.4" y2="336.1" stroke="#505050" stroke-width="1.3" />
<text x="315.4" y="348.3" font-size="10.2" font-weight="normal" text-anchor="middle" fill="#262626" stroke="#262626" stroke-width="0.4">1</text>
<line x1="331.58" y1="332.1" x2="331.58" y2="334.3" stroke="#505050" stroke-width="1.0" />
<line x1="341.05" y1="332.1" x2="341.05" y2="334.3" stroke="#505050" stroke-width="1.0" />
<line x1="347.76" y1="332.1" x2="347.76" y2="334.3" stroke="#505050" stroke-width="1.0" />
<line x1="352.97" y1="332.1" x2="352.97" y2="334.3" stroke="#505050" stroke-width="1.0" />
<line x1="357.23" y1="332.1" x2="357.23" y2="334.3" stroke="#505050" stroke-width="1.0" />
<line x1="360.82" y1="332.1" x2="360.82" y2="334.3" stroke="#505050" stroke-width="1.0" />
<line x1="363.94" y1="332.1" x2="363.94" y2="334.3" stroke="#505050" stroke-width="1.0" />
<line x1="366.69" y1="332.1" x2="366.69" y2="334.3" stroke="#505050" stroke-width="1.0" />
<line x1="369.15" y1="332.1" x2="369.15" y2="336.1" stroke="#505050" stroke-width="1.3" />
<text x="369.15" y="348.3" font-size="10.2" font-weight="normal" text-anchor="middle" fill="#262626" stroke="#262626" stroke-width="0.4">10</text>
<line x1="385.33" y1="332.1" x2="385.33" y2="334.3" stroke="#505050" stroke-width="1.0" />
<line x1="394.8" y1="332.1" x2="394.8" y2="334.3" stroke="#505050" stroke-width="1.0" />
<line x1="401.51" y1="332.1" x2="401.51" y2="334.3" stroke="#505050" stroke-width="1.0" />
<line x1="406.72" y1="332.1" x2="406.72" y2="334.3" stroke="#505050" stroke-width="1.0" />
<line x1="410.98" y1="332.1" x2="410.98" y2="334.3" stroke="#505050" stroke-width="1.0" />
<line x1="414.57" y1="332.1" x2="414.57" y2="334.3" stroke="#505050" stroke-width="1.0" />
<line x1="417.69" y1="332.1" x2="417.69" y2="334.3" stroke="#505050" stroke-width="1.0" />
<line x1="420.44" y1="332.1" x2="420.44" y2="334.3" stroke="#505050" stroke-width="1.0" />
<line x1="422.9" y1="332.1" x2="422.9" y2="336.1" stroke="#505050" stroke-width="1.3" />
<text x="422.9" y="348.3" font-size="10.2" font-weight="normal" text-anchor="middle" fill="#262626" stroke="#262626" stroke-width="0.4">100</text>
<line x1="439.08" y1="332.1" x2="439.08" y2="334.3" stroke="#505050" stroke-width="1.0" />
<line x1="448.55" y1="332.1" x2="448.55" y2="334.3" stroke="#505050" stroke-width="1.0" />
<line x1="455.26" y1="332.1" x2="455.26" y2="334.3" stroke="#505050" stroke-width="1.0" />
<line x1="460.47" y1="332.1" x2="460.47" y2="334.3" stroke="#505050" stroke-width="1.0" />
<line x1="464.73" y1="332.1" x2="464.73" y2="334.3" stroke="#505050" stroke-width="1.0" />
<line x1="468.32" y1="332.1" x2="468.32" y2="334.3" stroke="#505050" stroke-width="1.0" />
<line x1="471.44" y1="332.1" x2="471.44" y2="334.3" stroke="#505050" stroke-width="1.0" />
<line x1="474.19" y1="332.1" x2="474.19" y2="334.3" stroke="#505050" stroke-width="1.0" />
<line x1="476.65" y1="332.1" x2="476.65" y2="336.1" stroke="#505050" stroke-width="1.3" />
<text x="476.65" y="348.3" font-size="10.2" font-weight="normal" text-anchor="middle" fill="#262626" stroke="#262626" stroke-width="0.4">1000</text>
<line x1="492.83" y1="332.1" x2="492.83" y2="334.3" stroke="#505050" stroke-width="1.0" />
<line x1="502.3" y1="332.1" x2="502.3" y2="334.3" stroke="#505050" stroke-width="1.0" />
<line x1="509.01" y1="332.1" x2="509.01" y2="334.3" stroke="#505050" stroke-width="1.0" />
<line x1="514.22" y1="332.1" x2="514.22" y2="334.3" stroke="#505050" stroke-width="1.0" />
<line x1="518.48" y1="332.1" x2="518.48" y2="334.3" stroke="#505050" stroke-width="1.0" />
<line x1="522.07" y1="332.1" x2="522.07" y2="334.3" stroke="#505050" stroke-width="1.0" />
<line x1="525.19" y1="332.1" x2="525.19" y2="334.3" stroke="#505050" stroke-width="1.0" />
<line x1="527.94" y1="332.1" x2="527.94" y2="334.3" stroke="#505050" stroke-width="1.0" />
<line x1="530.4" y1="332.1" x2="530.4" y2="336.1" stroke="#505050" stroke-width="1.3" />
<text x="530.4" y="348.3" font-size="10.2" font-weight="normal" text-anchor="middle" fill="#262626" stroke="#262626" stroke-width="0.4">10,000</text>
<text x="284.9" y="197.1" font-size="10.8" font-weight="bold" text-anchor="start" fill="#262626" >(e)</text>
<text x="319.2" y="210.1" font-size="10.6" font-weight="bold" text-anchor="start" fill="#262626" >S3</text>
<text x="0" y="0" font-size="10.6" font-weight="bold" text-anchor="middle" fill="#262626" transform="translate(295.9,263.3) rotate(-90)">Porosity (%)</text>
<text x="422.8" y="360" font-size="9.9" font-weight="bold" text-anchor="middle" fill="#262626" >Pore diameter (nm)</text>
<line x1="315.4" y1="241.15" x2="422.9" y2="241.15" stroke="#5a5a5a" stroke-width="1.05" stroke-dasharray="3,1.4"/>
<line x1="315.4" y1="279.31" x2="422.9" y2="279.31" stroke="#5a5a5a" stroke-width="1.05" stroke-dasharray="3,1.4"/>
<line x1="315.4" y1="306.79" x2="422.9" y2="306.79" stroke="#5a5a5a" stroke-width="1.05" stroke-dasharray="3,1.4"/>
<line x1="315.4" y1="320.24" x2="422.9" y2="320.24" stroke="#5a5a5a" stroke-width="1.05" stroke-dasharray="3,1.4"/>
<line x1="422.9" y1="241.15" x2="422.9" y2="332.1" stroke="#5a5a5a" stroke-width="1.05" stroke-dasharray="3,1.4"/>
<polyline points="369.15,260.92 385.33,260.92 401.51,266.66 410.98,272.19 417.69,275.55 422.9,279.31 427.16,284.59 430.75,289.14 433.87,293.46 436.62,297.19 439.08,299.87 441.31,302.78 443.34,305.75 445.2,308.49 446.93,311.02 448.55,313.38 450.05,315.59 451.47,317.66 452.8,319.62 454.06,321.57 455.26,323.62 456.4,325.58 457.49,326 458.52,326.4 459.52,326.79 460.47,327.16 461.39,327.3 462.27,327.43 463.12,327.56 463.93,327.68 464.73,327.8 465.49,327.92 466.23,328.03 466.95,328.14 467.65,328.24 468.32,328.34 468.98,328.38 469.62,328.42 470.24,328.46 470.85,328.5 471.44,328.53 472.02,328.57 472.58,328.6 473.13,328.64 473.67,328.67 474.19,328.7 474.7,328.73 475.21,328.76 475.7,328.79 476.18,328.82 476.65,328.85 477.11,328.88 477.57,328.91 478.01,328.93 478.45,328.96 478.87,328.99 479.3,329.01 479.71,329.04 480.11,329.06 480.51,329.09 480.91,329.11 481.29,329.13" fill="none" stroke="#ff1a1a" stroke-width="0.95" stroke-linejoin="round" />
<circle cx="369.15" cy="260.92" r="1.25" fill="#ff1a1a"/>
<circle cx="385.33" cy="260.92" r="1.25" fill="#ff1a1a"/>
<circle cx="401.51" cy="266.66" r="1.25" fill="#ff1a1a"/>
<circle cx="410.98" cy="272.19" r="1.25" fill="#ff1a1a"/>
<circle cx="417.69" cy="275.55" r="1.25" fill="#ff1a1a"/>
<circle cx="422.9" cy="279.31" r="1.25" fill="#ff1a1a"/>
<circle cx="427.16" cy="284.59" r="1.25" fill="#ff1a1a"/>
<circle cx="430.75" cy="289.14" r="1.25" fill="#ff1a1a"/>
<circle cx="433.87" cy="293.46" r="1.25" fill="#ff1a1a"/>
<circle cx="436.62" cy="297.19" r="1.25" fill="#ff1a1a"/>
<circle cx="439.08" cy="299.87" r="1.25" fill="#ff1a1a"/>
<circle cx="441.31" cy="302.78" r="1.25" fill="#ff1a1a"/>
<circle cx="443.34" cy="305.75" r="1.25" fill="#ff1a1a"/>
<circle cx="445.2" cy="308.49" r="1.25" fill="#ff1a1a"/>
<circle cx="446.93" cy="311.02" r="1.25" fill="#ff1a1a"/>
<circle cx="448.55" cy="313.38" r="1.25" fill="#ff1a1a"/>
<circle cx="450.05" cy="315.59" r="1.25" fill="#ff1a1a"/>
<circle cx="451.47" cy="317.66" r="1.25" fill="#ff1a1a"/>
<circle cx="452.8" cy="319.62" r="1.25" fill="#ff1a1a"/>
<circle cx="454.06" cy="321.57" r="1.25" fill="#ff1a1a"/>
<circle cx="455.26" cy="323.62" r="1.25" fill="#ff1a1a"/>
<circle cx="456.4" cy="325.58" r="1.25" fill="#ff1a1a"/>
<circle cx="457.49" cy="326" r="1.25" fill="#ff1a1a"/>
<circle cx="458.52" cy="326.4" r="1.25" fill="#ff1a1a"/>
<circle cx="459.52" cy="326.79" r="1.25" fill="#ff1a1a"/>
<circle cx="460.47" cy="327.16" r="1.25" fill="#ff1a1a"/>
<circle cx="461.39" cy="327.3" r="1.25" fill="#ff1a1a"/>
<circle cx="462.27" cy="327.43" r="1.25" fill="#ff1a1a"/>
<circle cx="463.12" cy="327.56" r="1.25" fill="#ff1a1a"/>
<circle cx="463.93" cy="327.68" r="1.25" fill="#ff1a1a"/>
<circle cx="464.73" cy="327.8" r="1.25" fill="#ff1a1a"/>
<circle cx="465.49" cy="327.92" r="1.25" fill="#ff1a1a"/>
<circle cx="466.23" cy="328.03" r="1.25" fill="#ff1a1a"/>
<circle cx="466.95" cy="328.14" r="1.25" fill="#ff1a1a"/>
<circle cx="467.65" cy="328.24" r="1.25" fill="#ff1a1a"/>
<circle cx="468.32" cy="328.34" r="1.25" fill="#ff1a1a"/>
<circle cx="468.98" cy="328.38" r="1.25" fill="#ff1a1a"/>
<circle cx="469.62" cy="328.42" r="1.25" fill="#ff1a1a"/>
<circle cx="470.24" cy="328.46" r="1.25" fill="#ff1a1a"/>
<circle cx="470.85" cy="328.5" r="1.25" fill="#ff1a1a"/>
<circle cx="471.44" cy="328.53" r="1.25" fill="#ff1a1a"/>
<circle cx="472.02" cy="328.57" r="1.25" fill="#ff1a1a"/>
<circle cx="472.58" cy="328.6" r="1.25" fill="#ff1a1a"/>
<circle cx="473.13" cy="328.64" r="1.25" fill="#ff1a1a"/>
<circle cx="473.67" cy="328.67" r="1.25" fill="#ff1a1a"/>
<circle cx="474.19" cy="328.7" r="1.25" fill="#ff1a1a"/>
<circle cx="474.7" cy="328.73" r="1.25" fill="#ff1a1a"/>
<circle cx="475.21" cy="328.76" r="1.25" fill="#ff1a1a"/>
<circle cx="475.7" cy="328.79" r="1.25" fill="#ff1a1a"/>
<circle cx="476.18" cy="328.82" r="1.25" fill="#ff1a1a"/>
<circle cx="476.65" cy="328.85" r="1.25" fill="#ff1a1a"/>
<circle cx="477.11" cy="328.88" r="1.25" fill="#ff1a1a"/>
<circle cx="477.57" cy="328.91" r="1.25" fill="#ff1a1a"/>
<circle cx="478.01" cy="328.93" r="1.25" fill="#ff1a1a"/>
<circle cx="478.45" cy="328.96" r="1.25" fill="#ff1a1a"/>
<circle cx="478.87" cy="328.99" r="1.25" fill="#ff1a1a"/>
<circle cx="479.3" cy="329.01" r="1.25" fill="#ff1a1a"/>
<circle cx="479.71" cy="329.04" r="1.25" fill="#ff1a1a"/>
<circle cx="480.11" cy="329.06" r="1.25" fill="#ff1a1a"/>
<circle cx="480.51" cy="329.09" r="1.25" fill="#ff1a1a"/>
<circle cx="480.91" cy="329.11" r="1.25" fill="#ff1a1a"/>
<circle cx="481.29" cy="329.13" r="1.25" fill="#ff1a1a"/>
<polyline points="369.15,289.59 385.33,289.59 401.51,294.14 410.98,299.87 417.69,303.63 422.9,306.79 427.16,310.1 430.75,312.9 433.87,315.5 436.62,317.89 439.08,320.03 441.31,322.01 443.34,323.83 445.2,325.51 446.93,327.06 448.55,327.87 450.05,328.48 451.47,329.05 452.8,329.59 454.06,330.06 455.26,330.41 456.4,330.76 457.49,331.08 458.52,331.39 459.52,331.69 460.47,331.98" fill="none" stroke="#2020ff" stroke-width="0.95" stroke-linejoin="round" />
<circle cx="369.15" cy="289.59" r="1.25" fill="#2020ff"/>
<circle cx="385.33" cy="289.59" r="1.25" fill="#2020ff"/>
<circle cx="401.51" cy="294.14" r="1.25" fill="#2020ff"/>
<circle cx="410.98" cy="299.87" r="1.25" fill="#2020ff"/>
<circle cx="417.69" cy="303.63" r="1.25" fill="#2020ff"/>
<circle cx="422.9" cy="306.79" r="1.25" fill="#2020ff"/>
<circle cx="427.16" cy="310.1" r="1.25" fill="#2020ff"/>
<circle cx="430.75" cy="312.9" r="1.25" fill="#2020ff"/>
<circle cx="433.87" cy="315.5" r="1.25" fill="#2020ff"/>
<circle cx="436.62" cy="317.89" r="1.25" fill="#2020ff"/>
<circle cx="439.08" cy="320.03" r="1.25" fill="#2020ff"/>
<circle cx="441.31" cy="322.01" r="1.25" fill="#2020ff"/>
<circle cx="443.34" cy="323.83" r="1.25" fill="#2020ff"/>
<circle cx="445.2" cy="325.51" r="1.25" fill="#2020ff"/>
<circle cx="446.93" cy="327.06" r="1.25" fill="#2020ff"/>
<circle cx="448.55" cy="327.87" r="1.25" fill="#2020ff"/>
<circle cx="450.05" cy="328.48" r="1.25" fill="#2020ff"/>
<circle cx="451.47" cy="329.05" r="1.25" fill="#2020ff"/>
<circle cx="452.8" cy="329.59" r="1.25" fill="#2020ff"/>
<circle cx="454.06" cy="330.06" r="1.25" fill="#2020ff"/>
<circle cx="455.26" cy="330.41" r="1.25" fill="#2020ff"/>
<circle cx="456.4" cy="330.76" r="1.25" fill="#2020ff"/>
<circle cx="457.49" cy="331.08" r="1.25" fill="#2020ff"/>
<circle cx="458.52" cy="331.39" r="1.25" fill="#2020ff"/>
<circle cx="459.52" cy="331.69" r="1.25" fill="#2020ff"/>
<circle cx="460.47" cy="331.98" r="1.25" fill="#2020ff"/>
<polyline points="369.15,316.48 385.33,316.48 401.51,317.27 410.98,318.26 417.69,319.25 422.9,320.83 427.16,322.21 430.75,323.38 433.87,324.29 436.62,325.05 439.08,325.72 441.31,326.43 443.34,327.13 445.2,327.78 446.93,328.39 448.55,328.95 450.05,329.38 451.47,329.73 452.8,330.06 454.06,330.37 455.26,330.67 456.4,330.96 457.49,331.23 458.52,331.5 459.52,331.81 460.47,332.1" fill="none" stroke="#139090" stroke-width="0.95" stroke-linejoin="round" />
<path d="M369.15 314.92L370.71 317.65L367.59 317.65Z" fill="#139090"/>
<path d="M385.33 314.92L386.89 317.65L383.77 317.65Z" fill="#139090"/>
<path d="M401.51 315.71L403.07 318.44L399.95 318.44Z" fill="#139090"/>
<path d="M410.98 316.7L412.54 319.43L409.41 319.43Z" fill="#139090"/>
<path d="M417.69 317.69L419.25 320.42L416.13 320.42Z" fill="#139090"/>
<path d="M422.9 319.27L424.46 322L421.34 322Z" fill="#139090"/>
<path d="M427.16 320.65L428.72 323.38L425.59 323.38Z" fill="#139090"/>
<path d="M430.75 321.81L432.32 324.55L429.19 324.55Z" fill="#139090"/>
<path d="M433.87 322.73L435.43 325.47L432.31 325.47Z" fill="#139090"/>
<path d="M436.62 323.48L438.18 326.22L435.06 326.22Z" fill="#139090"/>
<path d="M439.08 324.16L440.64 326.89L437.52 326.89Z" fill="#139090"/>
<path d="M441.31 324.86L442.87 327.6L439.74 327.6Z" fill="#139090"/>
<path d="M443.34 325.57L444.9 328.31L441.77 328.31Z" fill="#139090"/>
<path d="M445.2 326.22L446.77 328.96L443.64 328.96Z" fill="#139090"/>
<path d="M446.93 326.82L448.5 329.56L445.37 329.56Z" fill="#139090"/>
<path d="M448.55 327.38L450.11 330.12L446.98 330.12Z" fill="#139090"/>
<path d="M450.05 327.81L451.61 330.55L448.49 330.55Z" fill="#139090"/>
<path d="M451.47 328.17L453.03 330.9L449.9 330.9Z" fill="#139090"/>
<path d="M452.8 328.5L454.36 331.23L451.24 331.23Z" fill="#139090"/>
<path d="M454.06 328.81L455.63 331.55L452.5 331.55Z" fill="#139090"/>
<path d="M455.26 329.11L456.82 331.84L453.7 331.84Z" fill="#139090"/>
<path d="M456.4 329.39L457.96 332.13L454.84 332.13Z" fill="#139090"/>
<path d="M457.49 329.66L459.05 332.4L455.92 332.4Z" fill="#139090"/>
<path d="M458.52 329.94L460.09 332.67L456.96 332.67Z" fill="#139090"/>
<path d="M459.52 330.24L461.08 332.98L457.95 332.98Z" fill="#139090"/>
<path d="M460.47 330.54L462.03 333.27L458.91 333.27Z" fill="#139090"/>
<polyline points="369.15,331.51 385.33,331.51 401.51,331.51 410.98,331.51 417.69,331.51 422.9,331.51 427.16,331.51" fill="none" stroke="#ff22ff" stroke-width="0.95" stroke-linejoin="round" />
<circle cx="369.15" cy="331.51" r="1.25" fill="#ff22ff"/>
<circle cx="385.33" cy="331.51" r="1.25" fill="#ff22ff"/>
<circle cx="401.51" cy="331.51" r="1.25" fill="#ff22ff"/>
<circle cx="410.98" cy="331.51" r="1.25" fill="#ff22ff"/>
<circle cx="417.69" cy="331.51" r="1.25" fill="#ff22ff"/>
<circle cx="422.9" cy="331.51" r="1.25" fill="#ff22ff"/>
<circle cx="427.16" cy="331.51" r="1.25" fill="#ff22ff"/>
<polyline points="369.15,201.81 385.33,201.81 401.51,213.47 410.98,225.73 417.69,234.63 422.9,240.95 427.16,250.71 430.75,258.74 433.87,265.67 436.62,271.97 439.08,279.21 441.31,285.75 443.34,291.5 445.2,296.28 446.93,300.71 448.55,304.83 450.05,308.68 451.47,312.31 452.8,315.72 454.06,318.95 455.26,321.03 456.4,322.48 457.49,323.68 458.52,324.07 459.52,324.44 460.47,324.8 461.39,325.14 462.27,325.47 463.12,325.79 463.93,326.16 464.73,326.63 465.49,327.08 466.23,327.52 466.95,327.94 467.65,328.16 468.32,328.17 468.98,328.19 469.62,328.21 470.24,328.23 470.85,328.24 471.44,328.26 472.02,328.28 472.58,328.29 473.13,328.31 473.67,328.32 474.19,328.34 474.7,328.35 475.21,328.36 475.7,328.38 476.18,328.39 476.65,328.4 477.11,328.42 477.57,328.43 478.01,328.44 478.45,328.45 478.87,328.46 479.3,328.48 479.71,328.49 480.11,328.5 480.51,328.51 480.91,328.52 481.29,328.53 481.67,328.54 482.04,332.1" fill="none" stroke="#ff8c1a" stroke-width="0.95" stroke-linejoin="round" />
<circle cx="369.15" cy="201.81" r="1.25" fill="#ff8c1a"/>
<circle cx="385.33" cy="201.81" r="1.25" fill="#ff8c1a"/>
<circle cx="401.51" cy="213.47" r="1.25" fill="#ff8c1a"/>
<circle cx="410.98" cy="225.73" r="1.25" fill="#ff8c1a"/>
<circle cx="417.69" cy="234.63" r="1.25" fill="#ff8c1a"/>
<circle cx="422.9" cy="240.95" r="1.25" fill="#ff8c1a"/>
<circle cx="427.16" cy="250.71" r="1.25" fill="#ff8c1a"/>
<circle cx="430.75" cy="258.74" r="1.25" fill="#ff8c1a"/>
<circle cx="433.87" cy="265.67" r="1.25" fill="#ff8c1a"/>
<circle cx="436.62" cy="271.97" r="1.25" fill="#ff8c1a"/>
<circle cx="439.08" cy="279.21" r="1.25" fill="#ff8c1a"/>
<circle cx="441.31" cy="285.75" r="1.25" fill="#ff8c1a"/>
<circle cx="443.34" cy="291.5" r="1.25" fill="#ff8c1a"/>
<circle cx="445.2" cy="296.28" r="1.25" fill="#ff8c1a"/>
<circle cx="446.93" cy="300.71" r="1.25" fill="#ff8c1a"/>
<circle cx="448.55" cy="304.83" r="1.25" fill="#ff8c1a"/>
<circle cx="450.05" cy="308.68" r="1.25" fill="#ff8c1a"/>
<circle cx="451.47" cy="312.31" r="1.25" fill="#ff8c1a"/>
<circle cx="452.8" cy="315.72" r="1.25" fill="#ff8c1a"/>
<circle cx="454.06" cy="318.95" r="1.25" fill="#ff8c1a"/>
<circle cx="455.26" cy="321.03" r="1.25" fill="#ff8c1a"/>
<circle cx="456.4" cy="322.48" r="1.25" fill="#ff8c1a"/>
<circle cx="457.49" cy="323.68" r="1.25" fill="#ff8c1a"/>
<circle cx="458.52" cy="324.07" r="1.25" fill="#ff8c1a"/>
<circle cx="459.52" cy="324.44" r="1.25" fill="#ff8c1a"/>
<circle cx="460.47" cy="324.8" r="1.25" fill="#ff8c1a"/>
<circle cx="461.39" cy="325.14" r="1.25" fill="#ff8c1a"/>
<circle cx="462.27" cy="325.47" r="1.25" fill="#ff8c1a"/>
<circle cx="463.12" cy="325.79" r="1.25" fill="#ff8c1a"/>
<circle cx="463.93" cy="326.16" r="1.25" fill="#ff8c1a"/>
<circle cx="464.73" cy="326.63" r="1.25" fill="#ff8c1a"/>
<circle cx="465.49" cy="327.08" r="1.25" fill="#ff8c1a"/>
<circle cx="466.23" cy="327.52" r="1.25" fill="#ff8c1a"/>
<circle cx="466.95" cy="327.94" r="1.25" fill="#ff8c1a"/>
<circle cx="467.65" cy="328.16" r="1.25" fill="#ff8c1a"/>
<circle cx="468.32" cy="328.17" r="1.25" fill="#ff8c1a"/>
<circle cx="468.98" cy="328.19" r="1.25" fill="#ff8c1a"/>
<circle cx="469.62" cy="328.21" r="1.25" fill="#ff8c1a"/>
<circle cx="470.24" cy="328.23" r="1.25" fill="#ff8c1a"/>
<circle cx="470.85" cy="328.24" r="1.25" fill="#ff8c1a"/>
<circle cx="471.44" cy="328.26" r="1.25" fill="#ff8c1a"/>
<circle cx="472.02" cy="328.28" r="1.25" fill="#ff8c1a"/>
<circle cx="472.58" cy="328.29" r="1.25" fill="#ff8c1a"/>
<circle cx="473.13" cy="328.31" r="1.25" fill="#ff8c1a"/>
<circle cx="473.67" cy="328.32" r="1.25" fill="#ff8c1a"/>
<circle cx="474.19" cy="328.34" r="1.25" fill="#ff8c1a"/>
<circle cx="474.7" cy="328.35" r="1.25" fill="#ff8c1a"/>
<circle cx="475.21" cy="328.36" r="1.25" fill="#ff8c1a"/>
<circle cx="475.7" cy="328.38" r="1.25" fill="#ff8c1a"/>
<circle cx="476.18" cy="328.39" r="1.25" fill="#ff8c1a"/>
<circle cx="476.65" cy="328.4" r="1.25" fill="#ff8c1a"/>
<circle cx="477.11" cy="328.42" r="1.25" fill="#ff8c1a"/>
<circle cx="477.57" cy="328.43" r="1.25" fill="#ff8c1a"/>
<circle cx="478.01" cy="328.44" r="1.25" fill="#ff8c1a"/>
<circle cx="478.45" cy="328.45" r="1.25" fill="#ff8c1a"/>
<circle cx="478.87" cy="328.46" r="1.25" fill="#ff8c1a"/>
<circle cx="479.3" cy="328.48" r="1.25" fill="#ff8c1a"/>
<circle cx="479.71" cy="328.49" r="1.25" fill="#ff8c1a"/>
<circle cx="480.11" cy="328.5" r="1.25" fill="#ff8c1a"/>
<circle cx="480.51" cy="328.51" r="1.25" fill="#ff8c1a"/>
<circle cx="480.91" cy="328.52" r="1.25" fill="#ff8c1a"/>
<circle cx="481.29" cy="328.53" r="1.25" fill="#ff8c1a"/>
<circle cx="481.67" cy="328.54" r="1.25" fill="#ff8c1a"/>
<circle cx="482.04" cy="332.1" r="1.25" fill="#ff8c1a"/>
<line x1="414" y1="200.2" x2="432.3" y2="200.2" stroke="#ff1a1a" stroke-width="1.1" />
<circle cx="423" cy="200.2" r="1.6" fill="#ff1a1a"/>
<text x="0" y="0" font-size="8.1" font-weight="normal" text-anchor="start" fill="#262626" stroke="#262626" stroke-width="0.5" transform="translate(433.6,202.7) scale(1.095,1)">Interparticle pores</text>
<text x="501.7" y="202.8" font-size="8.3" font-weight="normal" text-anchor="start" fill="#262626" stroke="#262626" stroke-width="0.45">654 nm</text>
<line x1="414" y1="210.3" x2="432.3" y2="210.3" stroke="#2020ff" stroke-width="1.1" />
<circle cx="423" cy="210.3" r="1.6" fill="#2020ff"/>
<text x="0" y="0" font-size="8.1" font-weight="normal" text-anchor="start" fill="#262626" stroke="#262626" stroke-width="0.5" transform="translate(433.6,212.8) scale(1.095,1)">Intraparticle pores</text>
<text x="501.7" y="212.9" font-size="8.3" font-weight="normal" text-anchor="start" fill="#262626" stroke="#262626" stroke-width="0.45">145 nm</text>
<line x1="414" y1="220" x2="432.3" y2="220" stroke="#139090" stroke-width="1.1" />
<path d="M423 218L425 221.5L421 221.5Z" fill="#139090"/>
<text x="0" y="0" font-size="8.1" font-weight="normal" text-anchor="start" fill="#262626" stroke="#262626" stroke-width="0.5" transform="translate(433.6,222.5) scale(1.095,1)">Dissolution pores</text>
<text x="501.7" y="222.6" font-size="8.3" font-weight="normal" text-anchor="start" fill="#262626" stroke="#262626" stroke-width="0.45">186 nm</text>
<line x1="414" y1="230.3" x2="432.3" y2="230.3" stroke="#ff22ff" stroke-width="1.1" />
<circle cx="423" cy="230.3" r="1.6" fill="#ff22ff"/>
<text x="0" y="0" font-size="8.1" font-weight="normal" text-anchor="start" fill="#262626" stroke="#262626" stroke-width="0.5" transform="translate(433.6,232.8) scale(1.095,1)">Intercrystal pores</text>
<text x="501.7" y="232.9" font-size="8.3" font-weight="normal" text-anchor="start" fill="#262626" stroke="#262626" stroke-width="0.45">51 nm</text>
<line x1="414" y1="239.8" x2="432.3" y2="239.8" stroke="#ff8c1a" stroke-width="1.1" />
<circle cx="423" cy="239.8" r="1.6" fill="#ff8c1a"/>
<text x="0" y="0" font-size="8.1" font-weight="normal" text-anchor="start" fill="#262626" stroke="#262626" stroke-width="0.5" transform="translate(433.6,242.3) scale(1.095,1)">Total</text>
<text x="501.7" y="242.4" font-size="8.3" font-weight="normal" text-anchor="start" fill="#262626" stroke="#262626" stroke-width="0.45">226 nm</text>
<rect x="315.4" y="377.0" width="215.0" height="139.5" fill="none" stroke="#505050" stroke-width="1.3"/>
<line x1="311.2" y1="516.5" x2="315.4" y2="516.5" stroke="#505050" stroke-width="1.3" />
<text x="306.6" y="520.1" font-size="10.6" font-weight="normal" text-anchor="end" fill="#262626" stroke="#262626" stroke-width="0.4">0</text>
<line x1="311.2" y1="470" x2="315.4" y2="470" stroke="#505050" stroke-width="1.3" />
<text x="306.6" y="473.6" font-size="10.6" font-weight="normal" text-anchor="end" fill="#262626" stroke="#262626" stroke-width="0.4">1</text>
<line x1="311.2" y1="423.5" x2="315.4" y2="423.5" stroke="#505050" stroke-width="1.3" />
<text x="306.6" y="427.1" font-size="10.6" font-weight="normal" text-anchor="end" fill="#262626" stroke="#262626" stroke-width="0.4">2</text>
<line x1="311.2" y1="377" x2="315.4" y2="377" stroke="#505050" stroke-width="1.3" />
<text x="306.6" y="380.6" font-size="10.6" font-weight="normal" text-anchor="end" fill="#262626" stroke="#262626" stroke-width="0.4">3</text>
<line x1="315.4" y1="516.5" x2="315.4" y2="520.5" stroke="#505050" stroke-width="1.3" />
<text x="315.4" y="532.7" font-size="10.2" font-weight="normal" text-anchor="middle" fill="#262626" stroke="#262626" stroke-width="0.4">1</text>
<line x1="331.58" y1="516.5" x2="331.58" y2="518.7" stroke="#505050" stroke-width="1.0" />
<line x1="341.05" y1="516.5" x2="341.05" y2="518.7" stroke="#505050" stroke-width="1.0" />
<line x1="347.76" y1="516.5" x2="347.76" y2="518.7" stroke="#505050" stroke-width="1.0" />
<line x1="352.97" y1="516.5" x2="352.97" y2="518.7" stroke="#505050" stroke-width="1.0" />
<line x1="357.23" y1="516.5" x2="357.23" y2="518.7" stroke="#505050" stroke-width="1.0" />
<line x1="360.82" y1="516.5" x2="360.82" y2="518.7" stroke="#505050" stroke-width="1.0" />
<line x1="363.94" y1="516.5" x2="363.94" y2="518.7" stroke="#505050" stroke-width="1.0" />
<line x1="366.69" y1="516.5" x2="366.69" y2="518.7" stroke="#505050" stroke-width="1.0" />
<line x1="369.15" y1="516.5" x2="369.15" y2="520.5" stroke="#505050" stroke-width="1.3" />
<text x="369.15" y="532.7" font-size="10.2" font-weight="normal" text-anchor="middle" fill="#262626" stroke="#262626" stroke-width="0.4">10</text>
<line x1="385.33" y1="516.5" x2="385.33" y2="518.7" stroke="#505050" stroke-width="1.0" />
<line x1="394.8" y1="516.5" x2="394.8" y2="518.7" stroke="#505050" stroke-width="1.0" />
<line x1="401.51" y1="516.5" x2="401.51" y2="518.7" stroke="#505050" stroke-width="1.0" />
<line x1="406.72" y1="516.5" x2="406.72" y2="518.7" stroke="#505050" stroke-width="1.0" />
<line x1="410.98" y1="516.5" x2="410.98" y2="518.7" stroke="#505050" stroke-width="1.0" />
<line x1="414.57" y1="516.5" x2="414.57" y2="518.7" stroke="#505050" stroke-width="1.0" />
<line x1="417.69" y1="516.5" x2="417.69" y2="518.7" stroke="#505050" stroke-width="1.0" />
<line x1="420.44" y1="516.5" x2="420.44" y2="518.7" stroke="#505050" stroke-width="1.0" />
<line x1="422.9" y1="516.5" x2="422.9" y2="520.5" stroke="#505050" stroke-width="1.3" />
<text x="422.9" y="532.7" font-size="10.2" font-weight="normal" text-anchor="middle" fill="#262626" stroke="#262626" stroke-width="0.4">100</text>
<line x1="439.08" y1="516.5" x2="439.08" y2="518.7" stroke="#505050" stroke-width="1.0" />
<line x1="448.55" y1="516.5" x2="448.55" y2="518.7" stroke="#505050" stroke-width="1.0" />
<line x1="455.26" y1="516.5" x2="455.26" y2="518.7" stroke="#505050" stroke-width="1.0" />
<line x1="460.47" y1="516.5" x2="460.47" y2="518.7" stroke="#505050" stroke-width="1.0" />
<line x1="464.73" y1="516.5" x2="464.73" y2="518.7" stroke="#505050" stroke-width="1.0" />
<line x1="468.32" y1="516.5" x2="468.32" y2="518.7" stroke="#505050" stroke-width="1.0" />
<line x1="471.44" y1="516.5" x2="471.44" y2="518.7" stroke="#505050" stroke-width="1.0" />
<line x1="474.19" y1="516.5" x2="474.19" y2="518.7" stroke="#505050" stroke-width="1.0" />
<line x1="476.65" y1="516.5" x2="476.65" y2="520.5" stroke="#505050" stroke-width="1.3" />
<text x="476.65" y="532.7" font-size="10.2" font-weight="normal" text-anchor="middle" fill="#262626" stroke="#262626" stroke-width="0.4">1000</text>
<line x1="492.83" y1="516.5" x2="492.83" y2="518.7" stroke="#505050" stroke-width="1.0" />
<line x1="502.3" y1="516.5" x2="502.3" y2="518.7" stroke="#505050" stroke-width="1.0" />
<line x1="509.01" y1="516.5" x2="509.01" y2="518.7" stroke="#505050" stroke-width="1.0" />
<line x1="514.22" y1="516.5" x2="514.22" y2="518.7" stroke="#505050" stroke-width="1.0" />
<line x1="518.48" y1="516.5" x2="518.48" y2="518.7" stroke="#505050" stroke-width="1.0" />
<line x1="522.07" y1="516.5" x2="522.07" y2="518.7" stroke="#505050" stroke-width="1.0" />
<line x1="525.19" y1="516.5" x2="525.19" y2="518.7" stroke="#505050" stroke-width="1.0" />
<line x1="527.94" y1="516.5" x2="527.94" y2="518.7" stroke="#505050" stroke-width="1.0" />
<line x1="530.4" y1="516.5" x2="530.4" y2="520.5" stroke="#505050" stroke-width="1.3" />
<text x="530.4" y="532.7" font-size="10.2" font-weight="normal" text-anchor="middle" fill="#262626" stroke="#262626" stroke-width="0.4">10,000</text>
<text x="286.2" y="380.4" font-size="10.8" font-weight="normal" text-anchor="start" fill="#262626" stroke="#262626" stroke-width="0.4">(f)</text>
<text x="319.2" y="393.4" font-size="10.6" font-weight="bold" text-anchor="start" fill="#262626" >S4</text>
<text x="0" y="0" font-size="10.6" font-weight="bold" text-anchor="middle" fill="#262626" transform="translate(295.9,447.15) rotate(-90)">Porosity (%)</text>
<text x="0" y="0" font-size="8.6" font-weight="bold" text-anchor="middle" fill="#262626" transform="translate(423.2,541.5) scale(1.15,1)">Pore diameter (nm)</text>
<line x1="315.4" y1="424.43" x2="422.9" y2="424.43" stroke="#5a5a5a" stroke-width="1.05" stroke-dasharray="3,1.4"/>
<line x1="315.4" y1="467.68" x2="422.9" y2="467.68" stroke="#5a5a5a" stroke-width="1.05" stroke-dasharray="3,1.4"/>
<line x1="315.4" y1="476.98" x2="422.9" y2="476.98" stroke="#5a5a5a" stroke-width="1.05" stroke-dasharray="3,1.4"/>
<line x1="315.4" y1="514.64" x2="422.9" y2="514.64" stroke="#5a5a5a" stroke-width="1.05" stroke-dasharray="3,1.4"/>
<line x1="422.9" y1="424.43" x2="422.9" y2="516.5" stroke="#5a5a5a" stroke-width="1.05" stroke-dasharray="3,1.4"/>
<polyline points="369.15,468.61 385.33,468.61 401.51,468.61 410.98,472.32 417.69,474.65 422.9,476.51 427.16,478.57 430.75,480.31 433.87,481.82 436.62,483.15 439.08,484.35 441.31,485.43 443.34,486.41 445.2,487.54 446.93,488.6 448.55,489.6 450.05,490.53 451.47,491.4 452.8,492.31 454.06,493.28 455.26,494.2 456.4,495.08 457.49,495.91 458.52,496.71 459.52,497.47 460.47,498.21 461.39,498.93 462.27,499.64 463.12,500.32 463.93,500.98 464.73,501.62 465.49,502.23 466.23,502.83 466.95,503.41 467.65,503.96 468.32,504.31 468.98,504.64 469.62,504.97 470.24,505.29 470.85,505.6 471.44,505.9 472.02,506.19 472.58,506.48 473.13,506.76 473.67,507.03 474.19,507.3 474.7,507.56 475.21,507.82 475.7,508.07 476.18,508.31 476.65,508.51 477.11,508.69 477.57,508.87 478.01,509.05 478.45,509.22 478.87,509.39 479.3,509.55 479.71,509.72 480.11,509.88 480.51,510.04 480.91,510.19 481.29,510.34 481.67,510.49 482.04,510.64 482.41,510.78 482.77,510.93 483.13,511.07 483.48,511.21 483.83,511.34 484.17,511.48 484.5,511.61 484.84,511.74 485.16,511.87 485.48,511.99 485.8,512.11 486.11,512.22 486.42,512.34 486.73,512.45 487.03,512.56 487.33,512.68 487.62,512.78 487.91,512.89 488.2,513 488.48,513.11 488.76,513.21 489.04,513.31 489.31,513.41 489.58,513.51 489.85,513.61 490.11,513.71 490.37,513.81" fill="none" stroke="#ff1a1a" stroke-width="0.95" stroke-linejoin="round" />
<circle cx="369.15" cy="468.61" r="1.25" fill="#ff1a1a"/>
<circle cx="385.33" cy="468.61" r="1.25" fill="#ff1a1a"/>
<circle cx="401.51" cy="468.61" r="1.25" fill="#ff1a1a"/>
<circle cx="410.98" cy="472.32" r="1.25" fill="#ff1a1a"/>
<circle cx="417.69" cy="474.65" r="1.25" fill="#ff1a1a"/>
<circle cx="422.9" cy="476.51" r="1.25" fill="#ff1a1a"/>
<circle cx="427.16" cy="478.57" r="1.25" fill="#ff1a1a"/>
<circle cx="430.75" cy="480.31" r="1.25" fill="#ff1a1a"/>
<circle cx="433.87" cy="481.82" r="1.25" fill="#ff1a1a"/>
<circle cx="436.62" cy="483.15" r="1.25" fill="#ff1a1a"/>
<circle cx="439.08" cy="484.35" r="1.25" fill="#ff1a1a"/>
<circle cx="441.31" cy="485.43" r="1.25" fill="#ff1a1a"/>
<circle cx="443.34" cy="486.41" r="1.25" fill="#ff1a1a"/>
<circle cx="445.2" cy="487.54" r="1.25" fill="#ff1a1a"/>
<circle cx="446.93" cy="488.6" r="1.25" fill="#ff1a1a"/>
<circle cx="448.55" cy="489.6" r="1.25" fill="#ff1a1a"/>
<circle cx="450.05" cy="490.53" r="1.25" fill="#ff1a1a"/>
<circle cx="451.47" cy="491.4" r="1.25" fill="#ff1a1a"/>
<circle cx="452.8" cy="492.31" r="1.25" fill="#ff1a1a"/>
<circle cx="454.06" cy="493.28" r="1.25" fill="#ff1a1a"/>
<circle cx="455.26" cy="494.2" r="1.25" fill="#ff1a1a"/>
<circle cx="456.4" cy="495.08" r="1.25" fill="#ff1a1a"/>
<circle cx="457.49" cy="495.91" r="1.25" fill="#ff1a1a"/>
<circle cx="458.52" cy="496.71" r="1.25" fill="#ff1a1a"/>
<circle cx="459.52" cy="497.47" r="1.25" fill="#ff1a1a"/>
<circle cx="460.47" cy="498.21" r="1.25" fill="#ff1a1a"/>
<circle cx="461.39" cy="498.93" r="1.25" fill="#ff1a1a"/>
<circle cx="462.27" cy="499.64" r="1.25" fill="#ff1a1a"/>
<circle cx="463.12" cy="500.32" r="1.25" fill="#ff1a1a"/>
<circle cx="463.93" cy="500.98" r="1.25" fill="#ff1a1a"/>
<circle cx="464.73" cy="501.62" r="1.25" fill="#ff1a1a"/>
<circle cx="465.49" cy="502.23" r="1.25" fill="#ff1a1a"/>
<circle cx="466.23" cy="502.83" r="1.25" fill="#ff1a1a"/>
<circle cx="466.95" cy="503.41" r="1.25" fill="#ff1a1a"/>
<circle cx="467.65" cy="503.96" r="1.25" fill="#ff1a1a"/>
<circle cx="468.32" cy="504.31" r="1.25" fill="#ff1a1a"/>
<circle cx="468.98" cy="504.64" r="1.25" fill="#ff1a1a"/>
<circle cx="469.62" cy="504.97" r="1.25" fill="#ff1a1a"/>
<circle cx="470.24" cy="505.29" r="1.25" fill="#ff1a1a"/>
<circle cx="470.85" cy="505.6" r="1.25" fill="#ff1a1a"/>
<circle cx="471.44" cy="505.9" r="1.25" fill="#ff1a1a"/>
<circle cx="472.02" cy="506.19" r="1.25" fill="#ff1a1a"/>
<circle cx="472.58" cy="506.48" r="1.25" fill="#ff1a1a"/>
<circle cx="473.13" cy="506.76" r="1.25" fill="#ff1a1a"/>
<circle cx="473.67" cy="507.03" r="1.25" fill="#ff1a1a"/>
<circle cx="474.19" cy="507.3" r="1.25" fill="#ff1a1a"/>
<circle cx="474.7" cy="507.56" r="1.25" fill="#ff1a1a"/>
<circle cx="475.21" cy="507.82" r="1.25" fill="#ff1a1a"/>
<circle cx="475.7" cy="508.07" r="1.25" fill="#ff1a1a"/>
<circle cx="476.18" cy="508.31" r="1.25" fill="#ff1a1a"/>
<circle cx="476.65" cy="508.51" r="1.25" fill="#ff1a1a"/>
<circle cx="477.11" cy="508.69" r="1.25" fill="#ff1a1a"/>
<circle cx="477.57" cy="508.87" r="1.25" fill="#ff1a1a"/>
<circle cx="478.01" cy="509.05" r="1.25" fill="#ff1a1a"/>
<circle cx="478.45" cy="509.22" r="1.25" fill="#ff1a1a"/>
<circle cx="478.87" cy="509.39" r="1.25" fill="#ff1a1a"/>
<circle cx="479.3" cy="509.55" r="1.25" fill="#ff1a1a"/>
<circle cx="479.71" cy="509.72" r="1.25" fill="#ff1a1a"/>
<circle cx="480.11" cy="509.88" r="1.25" fill="#ff1a1a"/>
<circle cx="480.51" cy="510.04" r="1.25" fill="#ff1a1a"/>
<circle cx="480.91" cy="510.19" r="1.25" fill="#ff1a1a"/>
<circle cx="481.29" cy="510.34" r="1.25" fill="#ff1a1a"/>
<circle cx="481.67" cy="510.49" r="1.25" fill="#ff1a1a"/>
<circle cx="482.04" cy="510.64" r="1.25" fill="#ff1a1a"/>
<circle cx="482.41" cy="510.78" r="1.25" fill="#ff1a1a"/>
<circle cx="482.77" cy="510.93" r="1.25" fill="#ff1a1a"/>
<circle cx="483.13" cy="511.07" r="1.25" fill="#ff1a1a"/>
<circle cx="483.48" cy="511.21" r="1.25" fill="#ff1a1a"/>
<circle cx="483.83" cy="511.34" r="1.25" fill="#ff1a1a"/>
<circle cx="484.17" cy="511.48" r="1.25" fill="#ff1a1a"/>
<circle cx="484.5" cy="511.61" r="1.25" fill="#ff1a1a"/>
<circle cx="484.84" cy="511.74" r="1.25" fill="#ff1a1a"/>
<circle cx="485.16" cy="511.87" r="1.25" fill="#ff1a1a"/>
<circle cx="485.48" cy="511.99" r="1.25" fill="#ff1a1a"/>
<circle cx="485.8" cy="512.11" r="1.25" fill="#ff1a1a"/>
<circle cx="486.11" cy="512.22" r="1.25" fill="#ff1a1a"/>
<circle cx="486.42" cy="512.34" r="1.25" fill="#ff1a1a"/>
<circle cx="486.73" cy="512.45" r="1.25" fill="#ff1a1a"/>
<circle cx="487.03" cy="512.56" r="1.25" fill="#ff1a1a"/>
<circle cx="487.33" cy="512.68" r="1.25" fill="#ff1a1a"/>
<circle cx="487.62" cy="512.78" r="1.25" fill="#ff1a1a"/>
<circle cx="487.91" cy="512.89" r="1.25" fill="#ff1a1a"/>
<circle cx="488.2" cy="513" r="1.25" fill="#ff1a1a"/>
<circle cx="488.48" cy="513.11" r="1.25" fill="#ff1a1a"/>
<circle cx="488.76" cy="513.21" r="1.25" fill="#ff1a1a"/>
<circle cx="489.04" cy="513.31" r="1.25" fill="#ff1a1a"/>
<circle cx="489.31" cy="513.41" r="1.25" fill="#ff1a1a"/>
<circle cx="489.58" cy="513.51" r="1.25" fill="#ff1a1a"/>
<circle cx="489.85" cy="513.61" r="1.25" fill="#ff1a1a"/>
<circle cx="490.11" cy="513.71" r="1.25" fill="#ff1a1a"/>
<circle cx="490.37" cy="513.81" r="1.25" fill="#ff1a1a"/>
<polyline points="369.15,451.4 385.33,451.4 401.51,451.4 410.98,458.84 417.69,463.49 422.9,467.68 427.16,470.76 430.75,473.37 433.87,476.15 436.62,479.21 439.08,481.94 441.31,484.42 443.34,487.42 445.2,490.18 446.93,492.73 448.55,495.04 450.05,497.11 451.47,499.04 452.8,500.87 454.06,502.6 455.26,503.67 456.4,504.51 457.49,505.31 458.52,506.08 459.52,506.81 460.47,507.51 461.39,508.19 462.27,508.84 463.12,509.46 463.93,509.89 464.73,510.28 465.49,510.66 466.23,511.03 466.95,511.38 467.65,511.73 468.32,512.07 468.98,512.39 469.62,512.71 470.24,513.02 470.85,513.32 471.44,513.61 472.02,513.9 472.58,513.97 473.13,514.05 473.67,514.13 474.19,514.2 474.7,514.27 475.21,514.34 475.7,514.41 476.18,514.48 476.65,514.54 477.11,514.61 477.57,514.67 478.01,514.73 478.45,514.79 478.87,514.85 479.3,514.91 479.71,514.97 480.11,515.02 480.51,515.08 480.91,515.15 481.29,515.24 481.67,515.32 482.04,515.41 482.41,515.49 482.77,515.57" fill="none" stroke="#2020ff" stroke-width="0.95" stroke-linejoin="round" />
<circle cx="369.15" cy="451.4" r="1.25" fill="#2020ff"/>
<circle cx="385.33" cy="451.4" r="1.25" fill="#2020ff"/>
<circle cx="401.51" cy="451.4" r="1.25" fill="#2020ff"/>
<circle cx="410.98" cy="458.84" r="1.25" fill="#2020ff"/>
<circle cx="417.69" cy="463.49" r="1.25" fill="#2020ff"/>
<circle cx="422.9" cy="467.68" r="1.25" fill="#2020ff"/>
<circle cx="427.16" cy="470.76" r="1.25" fill="#2020ff"/>
<circle cx="430.75" cy="473.37" r="1.25" fill="#2020ff"/>
<circle cx="433.87" cy="476.15" r="1.25" fill="#2020ff"/>
<circle cx="436.62" cy="479.21" r="1.25" fill="#2020ff"/>
<circle cx="439.08" cy="481.94" r="1.25" fill="#2020ff"/>
<circle cx="441.31" cy="484.42" r="1.25" fill="#2020ff"/>
<circle cx="443.34" cy="487.42" r="1.25" fill="#2020ff"/>
<circle cx="445.2" cy="490.18" r="1.25" fill="#2020ff"/>
<circle cx="446.93" cy="492.73" r="1.25" fill="#2020ff"/>
<circle cx="448.55" cy="495.04" r="1.25" fill="#2020ff"/>
<circle cx="450.05" cy="497.11" r="1.25" fill="#2020ff"/>
<circle cx="451.47" cy="499.04" r="1.25" fill="#2020ff"/>
<circle cx="452.8" cy="500.87" r="1.25" fill="#2020ff"/>
<circle cx="454.06" cy="502.6" r="1.25" fill="#2020ff"/>
<circle cx="455.26" cy="503.67" r="1.25" fill="#2020ff"/>
<circle cx="456.4" cy="504.51" r="1.25" fill="#2020ff"/>
<circle cx="457.49" cy="505.31" r="1.25" fill="#2020ff"/>
<circle cx="458.52" cy="506.08" r="1.25" fill="#2020ff"/>
<circle cx="459.52" cy="506.81" r="1.25" fill="#2020ff"/>
<circle cx="460.47" cy="507.51" r="1.25" fill="#2020ff"/>
<circle cx="461.39" cy="508.19" r="1.25" fill="#2020ff"/>
<circle cx="462.27" cy="508.84" r="1.25" fill="#2020ff"/>
<circle cx="463.12" cy="509.46" r="1.25" fill="#2020ff"/>
<circle cx="463.93" cy="509.89" r="1.25" fill="#2020ff"/>
<circle cx="464.73" cy="510.28" r="1.25" fill="#2020ff"/>
<circle cx="465.49" cy="510.66" r="1.25" fill="#2020ff"/>
<circle cx="466.23" cy="511.03" r="1.25" fill="#2020ff"/>
<circle cx="466.95" cy="511.38" r="1.25" fill="#2020ff"/>
<circle cx="467.65" cy="511.73" r="1.25" fill="#2020ff"/>
<circle cx="468.32" cy="512.07" r="1.25" fill="#2020ff"/>
<circle cx="468.98" cy="512.39" r="1.25" fill="#2020ff"/>
<circle cx="469.62" cy="512.71" r="1.25" fill="#2020ff"/>
<circle cx="470.24" cy="513.02" r="1.25" fill="#2020ff"/>
<circle cx="470.85" cy="513.32" r="1.25" fill="#2020ff"/>
<circle cx="471.44" cy="513.61" r="1.25" fill="#2020ff"/>
<circle cx="472.02" cy="513.9" r="1.25" fill="#2020ff"/>
<circle cx="472.58" cy="513.97" r="1.25" fill="#2020ff"/>
<circle cx="473.13" cy="514.05" r="1.25" fill="#2020ff"/>
<circle cx="473.67" cy="514.13" r="1.25" fill="#2020ff"/>
<circle cx="474.19" cy="514.2" r="1.25" fill="#2020ff"/>
<circle cx="474.7" cy="514.27" r="1.25" fill="#2020ff"/>
<circle cx="475.21" cy="514.34" r="1.25" fill="#2020ff"/>
<circle cx="475.7" cy="514.41" r="1.25" fill="#2020ff"/>
<circle cx="476.18" cy="514.48" r="1.25" fill="#2020ff"/>
<circle cx="476.65" cy="514.54" r="1.25" fill="#2020ff"/>
<circle cx="477.11" cy="514.61" r="1.25" fill="#2020ff"/>
<circle cx="477.57" cy="514.67" r="1.25" fill="#2020ff"/>
<circle cx="478.01" cy="514.73" r="1.25" fill="#2020ff"/>
<circle cx="478.45" cy="514.79" r="1.25" fill="#2020ff"/>
<circle cx="478.87" cy="514.85" r="1.25" fill="#2020ff"/>
<circle cx="479.3" cy="514.91" r="1.25" fill="#2020ff"/>
<circle cx="479.71" cy="514.97" r="1.25" fill="#2020ff"/>
<circle cx="480.11" cy="515.02" r="1.25" fill="#2020ff"/>
<circle cx="480.51" cy="515.08" r="1.25" fill="#2020ff"/>
<circle cx="480.91" cy="515.15" r="1.25" fill="#2020ff"/>
<circle cx="481.29" cy="515.24" r="1.25" fill="#2020ff"/>
<circle cx="481.67" cy="515.32" r="1.25" fill="#2020ff"/>
<circle cx="482.04" cy="515.41" r="1.25" fill="#2020ff"/>
<circle cx="482.41" cy="515.49" r="1.25" fill="#2020ff"/>
<circle cx="482.77" cy="515.57" r="1.25" fill="#2020ff"/>
<polyline points="369.15,514.87 385.33,514.91 401.51,514.94 410.98,514.96 417.69,514.98 422.9,514.99 427.16,515 430.75,515.01 433.87,515.01 436.62,515.02 439.08,515.02 441.31,515.03 443.34,515.03 445.2,515.04 446.93,515.04 448.55,515.04 450.05,515.05 451.47,515.05 452.8,515.05 454.06,515.06 455.26,515.06 456.4,515.06 457.49,515.06 458.52,515.07 459.52,515.07 460.47,515.07 461.39,515.07 462.27,515.07 463.12,515.08 463.93,515.08 464.73,515.08 465.49,515.08 466.23,515.08 466.95,515.08 467.65,515.09 468.32,515.09 468.98,515.09 469.62,515.09 470.24,515.09 470.85,515.09 471.44,515.09 472.02,515.09 472.58,515.1 473.13,515.1 473.67,515.1 474.19,515.1 474.7,515.1 475.21,515.1 475.7,515.1 476.18,515.1 476.65,515.11" fill="none" stroke="#139090" stroke-width="0.95" stroke-linejoin="round" />
<path d="M369.15 513.31L370.71 516.04L367.59 516.04Z" fill="#139090"/>
<path d="M385.33 513.34L386.89 516.08L383.77 516.08Z" fill="#139090"/>
<path d="M401.51 513.38L403.07 516.11L399.95 516.11Z" fill="#139090"/>
<path d="M410.98 513.4L412.54 516.13L409.41 516.13Z" fill="#139090"/>
<path d="M417.69 513.41L419.25 516.15L416.13 516.15Z" fill="#139090"/>
<path d="M422.9 513.43L424.46 516.16L421.34 516.16Z" fill="#139090"/>
<path d="M427.16 513.44L428.72 516.17L425.59 516.17Z" fill="#139090"/>
<path d="M430.75 513.44L432.32 516.18L429.19 516.18Z" fill="#139090"/>
<path d="M433.87 513.45L435.43 516.18L432.31 516.18Z" fill="#139090"/>
<path d="M436.62 513.46L438.18 516.19L435.06 516.19Z" fill="#139090"/>
<path d="M439.08 513.46L440.64 516.2L437.52 516.2Z" fill="#139090"/>
<path d="M441.31 513.47L442.87 516.2L439.74 516.2Z" fill="#139090"/>
<path d="M443.34 513.47L444.9 516.2L441.77 516.2Z" fill="#139090"/>
<path d="M445.2 513.47L446.77 516.21L443.64 516.21Z" fill="#139090"/>
<path d="M446.93 513.48L448.5 516.21L445.37 516.21Z" fill="#139090"/>
<path d="M448.55 513.48L450.11 516.22L446.98 516.22Z" fill="#139090"/>
<path d="M450.05 513.48L451.61 516.22L448.49 516.22Z" fill="#139090"/>
<path d="M451.47 513.49L453.03 516.22L449.9 516.22Z" fill="#139090"/>
<path d="M452.8 513.49L454.36 516.23L451.24 516.23Z" fill="#139090"/>
<path d="M454.06 513.49L455.63 516.23L452.5 516.23Z" fill="#139090"/>
<path d="M455.26 513.5L456.82 516.23L453.7 516.23Z" fill="#139090"/>
<path d="M456.4 513.5L457.96 516.23L454.84 516.23Z" fill="#139090"/>
<path d="M457.49 513.5L459.05 516.24L455.92 516.24Z" fill="#139090"/>
<path d="M458.52 513.5L460.09 516.24L456.96 516.24Z" fill="#139090"/>
<path d="M459.52 513.51L461.08 516.24L457.95 516.24Z" fill="#139090"/>
<path d="M460.47 513.51L462.03 516.24L458.91 516.24Z" fill="#139090"/>
<path d="M461.39 513.51L462.95 516.24L459.82 516.24Z" fill="#139090"/>
<path d="M462.27 513.51L463.83 516.25L460.7 516.25Z" fill="#139090"/>
<path d="M463.12 513.51L464.68 516.25L461.55 516.25Z" fill="#139090"/>
<path d="M463.93 513.51L465.5 516.25L462.37 516.25Z" fill="#139090"/>
<path d="M464.73 513.52L466.29 516.25L463.16 516.25Z" fill="#139090"/>
<path d="M465.49 513.52L467.05 516.25L463.93 516.25Z" fill="#139090"/>
<path d="M466.23 513.52L467.79 516.25L464.67 516.25Z" fill="#139090"/>
<path d="M466.95 513.52L468.51 516.26L465.39 516.26Z" fill="#139090"/>
<path d="M467.65 513.52L469.21 516.26L466.08 516.26Z" fill="#139090"/>
<path d="M468.32 513.52L469.89 516.26L466.76 516.26Z" fill="#139090"/>
<path d="M468.98 513.53L470.54 516.26L467.42 516.26Z" fill="#139090"/>
<path d="M469.62 513.53L471.18 516.26L468.06 516.26Z" fill="#139090"/>
<path d="M470.24 513.53L471.81 516.26L468.68 516.26Z" fill="#139090"/>
<path d="M470.85 513.53L472.41 516.26L469.29 516.26Z" fill="#139090"/>
<path d="M471.44 513.53L473 516.27L469.88 516.27Z" fill="#139090"/>
<path d="M472.02 513.53L473.58 516.27L470.45 516.27Z" fill="#139090"/>
<path d="M472.58 513.53L474.14 516.27L471.02 516.27Z" fill="#139090"/>
<path d="M473.13 513.53L474.69 516.27L471.57 516.27Z" fill="#139090"/>
<path d="M473.67 513.54L475.23 516.27L472.1 516.27Z" fill="#139090"/>
<path d="M474.19 513.54L475.75 516.27L472.63 516.27Z" fill="#139090"/>
<path d="M474.7 513.54L476.27 516.27L473.14 516.27Z" fill="#139090"/>
<path d="M475.21 513.54L476.77 516.27L473.64 516.27Z" fill="#139090"/>
<path d="M475.7 513.54L477.26 516.27L474.13 516.27Z" fill="#139090"/>
<path d="M476.18 513.54L477.74 516.28L474.62 516.28Z" fill="#139090"/>
<path d="M476.65 513.54L478.21 516.28L475.09 516.28Z" fill="#139090"/>
<polyline points="369.15,399.79 385.33,399.79 401.51,399.79 410.98,410.94 417.69,416.99 422.9,424.43 427.16,429.28 430.75,433.65 433.87,438.9 436.62,443.53 439.08,447.5 441.31,451.08 443.34,454.34 445.2,458.04 446.93,461.53 448.55,464.78 450.05,467.84 451.47,471.11 452.8,474.2 454.06,477.11 455.26,479.88 456.4,482.51 457.49,485.07 458.52,487.53 459.52,489.88 460.47,492.14 461.39,494.3 462.27,496.39 463.12,498.4 463.93,499.56 464.73,500.58 465.49,501.58 466.23,502.55 466.95,503.48 467.65,504.39 468.32,505.27 468.98,506.12 469.62,506.95 470.24,507.32 470.85,507.48 471.44,507.64 472.02,507.79 472.58,507.94 473.13,508.09 473.67,508.23 474.19,508.37 474.7,508.51 475.21,508.65 475.7,508.78 476.18,508.91 476.65,509.03 477.11,509.16 477.57,509.28 478.01,509.4 478.45,509.51 478.87,509.66 479.3,509.81 479.71,509.95 480.11,510.1 480.51,510.24 480.91,510.37 481.29,510.51 481.67,510.64 482.04,510.77 482.41,510.9 482.77,511.03 483.13,511.15 483.48,511.28 483.83,511.4 484.17,511.52 484.5,511.64 484.84,511.75 485.16,511.88 485.48,512.07 485.8,512.26 486.11,512.44 486.42,512.63 486.73,512.81 487.03,512.99 487.33,513.16 487.62,513.34 487.91,513.51 488.2,513.68 488.48,513.85 488.76,514.01 489.04,514.18 489.31,514.34 489.58,514.5 489.85,514.66 490.11,514.81 490.37,514.97" fill="none" stroke="#ff22ff" stroke-width="0.95" stroke-linejoin="round" />
<circle cx="369.15" cy="399.79" r="1.25" fill="#ff22ff"/>
<circle cx="385.33" cy="399.79" r="1.25" fill="#ff22ff"/>
<circle cx="401.51" cy="399.79" r="1.25" fill="#ff22ff"/>
<circle cx="410.98" cy="410.94" r="1.25" fill="#ff22ff"/>
<circle cx="417.69" cy="416.99" r="1.25" fill="#ff22ff"/>
<circle cx="422.9" cy="424.43" r="1.25" fill="#ff22ff"/>
<circle cx="427.16" cy="429.28" r="1.25" fill="#ff22ff"/>
<circle cx="430.75" cy="433.65" r="1.25" fill="#ff22ff"/>
<circle cx="433.87" cy="438.9" r="1.25" fill="#ff22ff"/>
<circle cx="436.62" cy="443.53" r="1.25" fill="#ff22ff"/>
<circle cx="439.08" cy="447.5" r="1.25" fill="#ff22ff"/>
<circle cx="441.31" cy="451.08" r="1.25" fill="#ff22ff"/>
<circle cx="443.34" cy="454.34" r="1.25" fill="#ff22ff"/>
<circle cx="445.2" cy="458.04" r="1.25" fill="#ff22ff"/>
<circle cx="446.93" cy="461.53" r="1.25" fill="#ff22ff"/>
<circle cx="448.55" cy="464.78" r="1.25" fill="#ff22ff"/>
<circle cx="450.05" cy="467.84" r="1.25" fill="#ff22ff"/>
<circle cx="451.47" cy="471.11" r="1.25" fill="#ff22ff"/>
<circle cx="452.8" cy="474.2" r="1.25" fill="#ff22ff"/>
<circle cx="454.06" cy="477.11" r="1.25" fill="#ff22ff"/>
<circle cx="455.26" cy="479.88" r="1.25" fill="#ff22ff"/>
<circle cx="456.4" cy="482.51" r="1.25" fill="#ff22ff"/>
<circle cx="457.49" cy="485.07" r="1.25" fill="#ff22ff"/>
<circle cx="458.52" cy="487.53" r="1.25" fill="#ff22ff"/>
<circle cx="459.52" cy="489.88" r="1.25" fill="#ff22ff"/>
<circle cx="460.47" cy="492.14" r="1.25" fill="#ff22ff"/>
<circle cx="461.39" cy="494.3" r="1.25" fill="#ff22ff"/>
<circle cx="462.27" cy="496.39" r="1.25" fill="#ff22ff"/>
<circle cx="463.12" cy="498.4" r="1.25" fill="#ff22ff"/>
<circle cx="463.93" cy="499.56" r="1.25" fill="#ff22ff"/>
<circle cx="464.73" cy="500.58" r="1.25" fill="#ff22ff"/>
<circle cx="465.49" cy="501.58" r="1.25" fill="#ff22ff"/>
<circle cx="466.23" cy="502.55" r="1.25" fill="#ff22ff"/>
<circle cx="466.95" cy="503.48" r="1.25" fill="#ff22ff"/>
<circle cx="467.65" cy="504.39" r="1.25" fill="#ff22ff"/>
<circle cx="468.32" cy="505.27" r="1.25" fill="#ff22ff"/>
<circle cx="468.98" cy="506.12" r="1.25" fill="#ff22ff"/>
<circle cx="469.62" cy="506.95" r="1.25" fill="#ff22ff"/>
<circle cx="470.24" cy="507.32" r="1.25" fill="#ff22ff"/>
<circle cx="470.85" cy="507.48" r="1.25" fill="#ff22ff"/>
<circle cx="471.44" cy="507.64" r="1.25" fill="#ff22ff"/>
<circle cx="472.02" cy="507.79" r="1.25" fill="#ff22ff"/>
<circle cx="472.58" cy="507.94" r="1.25" fill="#ff22ff"/>
<circle cx="473.13" cy="508.09" r="1.25" fill="#ff22ff"/>
<circle cx="473.67" cy="508.23" r="1.25" fill="#ff22ff"/>
<circle cx="474.19" cy="508.37" r="1.25" fill="#ff22ff"/>
<circle cx="474.7" cy="508.51" r="1.25" fill="#ff22ff"/>
<circle cx="475.21" cy="508.65" r="1.25" fill="#ff22ff"/>
<circle cx="475.7" cy="508.78" r="1.25" fill="#ff22ff"/>
<circle cx="476.18" cy="508.91" r="1.25" fill="#ff22ff"/>
<circle cx="476.65" cy="509.03" r="1.25" fill="#ff22ff"/>
<circle cx="477.11" cy="509.16" r="1.25" fill="#ff22ff"/>
<circle cx="477.57" cy="509.28" r="1.25" fill="#ff22ff"/>
<circle cx="478.01" cy="509.4" r="1.25" fill="#ff22ff"/>
<circle cx="478.45" cy="509.51" r="1.25" fill="#ff22ff"/>
<circle cx="478.87" cy="509.66" r="1.25" fill="#ff22ff"/>
<circle cx="479.3" cy="509.81" r="1.25" fill="#ff22ff"/>
<circle cx="479.71" cy="509.95" r="1.25" fill="#ff22ff"/>
<circle cx="480.11" cy="510.1" r="1.25" fill="#ff22ff"/>
<circle cx="480.51" cy="510.24" r="1.25" fill="#ff22ff"/>
<circle cx="480.91" cy="510.37" r="1.25" fill="#ff22ff"/>
<circle cx="481.29" cy="510.51" r="1.25" fill="#ff22ff"/>
<circle cx="481.67" cy="510.64" r="1.25" fill="#ff22ff"/>
<circle cx="482.04" cy="510.77" r="1.25" fill="#ff22ff"/>
<circle cx="482.41" cy="510.9" r="1.25" fill="#ff22ff"/>
<circle cx="482.77" cy="511.03" r="1.25" fill="#ff22ff"/>
<circle cx="483.13" cy="511.15" r="1.25" fill="#ff22ff"/>
<circle cx="483.48" cy="511.28" r="1.25" fill="#ff22ff"/>
<circle cx="483.83" cy="511.4" r="1.25" fill="#ff22ff"/>
<circle cx="484.17" cy="511.52" r="1.25" fill="#ff22ff"/>
<circle cx="484.5" cy="511.64" r="1.25" fill="#ff22ff"/>
<circle cx="484.84" cy="511.75" r="1.25" fill="#ff22ff"/>
<circle cx="485.16" cy="511.88" r="1.25" fill="#ff22ff"/>
<circle cx="485.48" cy="512.07" r="1.25" fill="#ff22ff"/>
<circle cx="485.8" cy="512.26" r="1.25" fill="#ff22ff"/>
<circle cx="486.11" cy="512.44" r="1.25" fill="#ff22ff"/>
<circle cx="486.42" cy="512.63" r="1.25" fill="#ff22ff"/>
<circle cx="486.73" cy="512.81" r="1.25" fill="#ff22ff"/>
<circle cx="487.03" cy="512.99" r="1.25" fill="#ff22ff"/>
<circle cx="487.33" cy="513.16" r="1.25" fill="#ff22ff"/>
<circle cx="487.62" cy="513.34" r="1.25" fill="#ff22ff"/>
<circle cx="487.91" cy="513.51" r="1.25" fill="#ff22ff"/>
<circle cx="488.2" cy="513.68" r="1.25" fill="#ff22ff"/>
<circle cx="488.48" cy="513.85" r="1.25" fill="#ff22ff"/>
<circle cx="488.76" cy="514.01" r="1.25" fill="#ff22ff"/>
<circle cx="489.04" cy="514.18" r="1.25" fill="#ff22ff"/>
<circle cx="489.31" cy="514.34" r="1.25" fill="#ff22ff"/>
<circle cx="489.58" cy="514.5" r="1.25" fill="#ff22ff"/>
<circle cx="489.85" cy="514.66" r="1.25" fill="#ff22ff"/>
<circle cx="490.11" cy="514.81" r="1.25" fill="#ff22ff"/>
<circle cx="490.37" cy="514.97" r="1.25" fill="#ff22ff"/>
<line x1="414" y1="385.4" x2="432.3" y2="385.4" stroke="#ff1a1a" stroke-width="1.1" />
<circle cx="423" cy="385.4" r="1.6" fill="#ff1a1a"/>
<text x="0" y="0" font-size="8.1" font-weight="normal" text-anchor="start" fill="#262626" stroke="#262626" stroke-width="0.5" transform="translate(433.6,387.9) scale(1.095,1)">Interparticle pores</text>
<text x="501.7" y="388" font-size="8.3" font-weight="normal" text-anchor="start" fill="#262626" stroke="#262626" stroke-width="0.45">474 nm</text>
<line x1="414" y1="395.2" x2="432.3" y2="395.2" stroke="#2020ff" stroke-width="1.1" />
<circle cx="423" cy="395.2" r="1.6" fill="#2020ff"/>
<text x="0" y="0" font-size="8.1" font-weight="normal" text-anchor="start" fill="#262626" stroke="#262626" stroke-width="0.5" transform="translate(433.6,397.7) scale(1.095,1)">Intraparticle pores</text>
<text x="501.7" y="397.8" font-size="8.3" font-weight="normal" text-anchor="start" fill="#262626" stroke="#262626" stroke-width="0.45">251 nm</text>
<line x1="414" y1="405" x2="432.3" y2="405" stroke="#139090" stroke-width="1.1" />
<path d="M423 403L425 406.5L421 406.5Z" fill="#139090"/>
<text x="0" y="0" font-size="8.1" font-weight="normal" text-anchor="start" fill="#262626" stroke="#262626" stroke-width="0.5" transform="translate(433.6,407.5) scale(1.095,1)">Dissolution pores</text>
<text x="501.7" y="407.6" font-size="8.3" font-weight="normal" text-anchor="start" fill="#262626" stroke="#262626" stroke-width="0.45">297 nm</text>
<line x1="414" y1="415.1" x2="432.3" y2="415.1" stroke="#ff22ff" stroke-width="1.1" />
<circle cx="423" cy="415.1" r="1.6" fill="#ff22ff"/>
<text x="0" y="0" font-size="8.1" font-weight="normal" text-anchor="start" fill="#262626" stroke="#262626" stroke-width="0.5" transform="translate(433.6,417.6) scale(1.095,1)">Total</text>
<text x="501.7" y="417.7" font-size="8.3" font-weight="normal" text-anchor="start" fill="#262626" stroke="#262626" stroke-width="0.45">364 nm</text>
</svg>
</body></html>
